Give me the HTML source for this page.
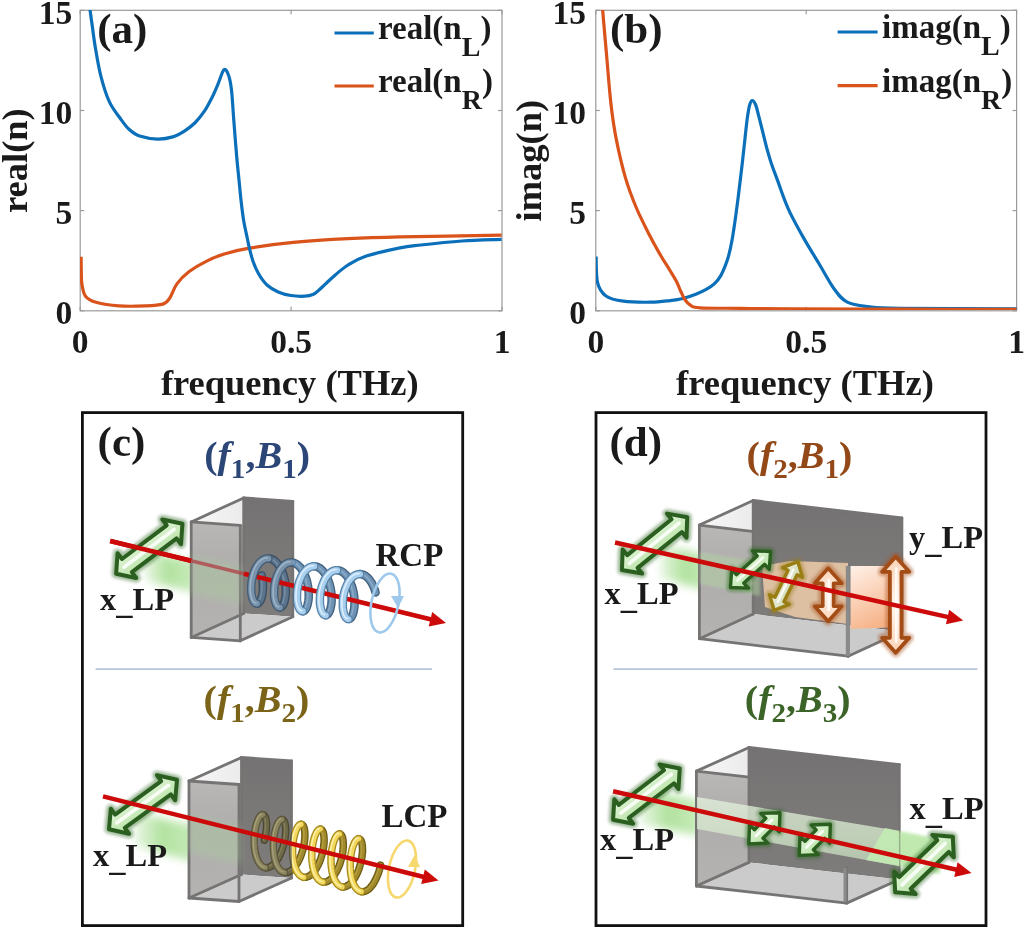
<!DOCTYPE html>
<html><head><meta charset="utf-8"><title>Figure</title><style>
html,body{margin:0;padding:0;background:#fff;}
svg{display:block;}
text{font-family:"Liberation Serif","Times New Roman",serif;font-weight:bold;fill:#1a1a1a;}
.tk{font-size:33.5px;}
.al{font-size:36.5px;}
.lg{font-size:33px;}
.lgs{font-size:28px;}
.pl{font-size:43px;}
.lb{font-size:32.5px;}
.lb2{font-size:33px;}
.fb{font-size:38.5px;}
.fbs{font-size:28px;font-style:normal;}
.it{font-style:italic;}
</style></head>
<body><svg width="1025" height="929" viewBox="0 0 1025 929">
<rect width="1025" height="929" fill="#ffffff"/>
<defs>
<clipPath id="clipA"><rect x="80" y="10" width="422" height="300"/></clipPath>
<clipPath id="clipB"><rect x="596" y="10" width="421" height="300"/></clipPath>
<clipPath id="clipC1in"><rect x="240" y="480" width="53.6" height="170"/></clipPath>
<clipPath id="clipC1out"><rect x="293.6" y="480" width="120" height="170"/></clipPath>
<clipPath id="clipC2in"><rect x="240" y="740" width="52" height="170"/></clipPath>
<clipPath id="clipC2out"><rect x="292" y="740" width="120" height="170"/></clipPath>
<linearGradient id="gfill" x1="0" y1="0" x2="0" y2="1"><stop offset="0" stop-color="#e6f7de"/><stop offset="1" stop-color="#b3e0a0"/></linearGradient>
<linearGradient id="yfill" x1="0" y1="0" x2="0" y2="1"><stop offset="0" stop-color="#eef0dc"/><stop offset="1" stop-color="#cfd9b4"/></linearGradient>
<linearGradient id="ofill" x1="0" y1="0" x2="1" y2="0"><stop offset="0" stop-color="#fbd3b5"/><stop offset="0.5" stop-color="#fff3ea"/><stop offset="1" stop-color="#fbd3b5"/></linearGradient>
<linearGradient id="beamG" x1="0" y1="0" x2="1" y2="0"><stop offset="0" stop-color="#b4e2a2" stop-opacity="0.3"/><stop offset="0.45" stop-color="#a9df95" stop-opacity="0.9"/><stop offset="1" stop-color="#bde8ad" stop-opacity="0.85"/></linearGradient>
<linearGradient id="oG" x1="0" y1="0" x2="0.4" y2="1"><stop offset="0" stop-color="#fff1e8"/><stop offset="1" stop-color="#f6b48a"/></linearGradient>
<linearGradient id="leftG" x1="0" y1="0" x2="0" y2="1"><stop offset="0" stop-color="#bfbcbc"/><stop offset="0.5" stop-color="#afacac"/><stop offset="1" stop-color="#b5b2b2"/></linearGradient>
<linearGradient id="topG" x1="0" y1="0" x2="1" y2="0"><stop offset="0" stop-color="#f7f7f7"/><stop offset="1" stop-color="#ebebeb"/></linearGradient>
<linearGradient id="backG" x1="0" y1="0" x2="0" y2="1"><stop offset="0" stop-color="#747272"/><stop offset="0.5" stop-color="#7b7878"/><stop offset="1" stop-color="#7e7b7b"/></linearGradient>
<linearGradient id="bandG" x1="0" y1="0" x2="0" y2="1"><stop offset="0" stop-color="#e6f3df"/><stop offset="0.6" stop-color="#d6ebcc"/><stop offset="1" stop-color="#c4d8bb"/></linearGradient>
<filter id="blur2" x="-20%" y="-20%" width="140%" height="140%"><feGaussianBlur stdDeviation="1.5"/></filter>
<filter id="blur3" x="-20%" y="-50%" width="140%" height="200%"><feGaussianBlur stdDeviation="4"/></filter>
</defs>
<rect x="80.2" y="10.3" width="421.8" height="300.5" fill="none" stroke="#9a9a9a" stroke-width="1.2"/><line x1="80.2" y1="310.8" x2="84.2" y2="310.8" stroke="#9a9a9a" stroke-width="1.2" /><line x1="502.0" y1="310.8" x2="498.0" y2="310.8" stroke="#9a9a9a" stroke-width="1.2" /><line x1="80.2" y1="210.6" x2="84.2" y2="210.6" stroke="#9a9a9a" stroke-width="1.2" /><line x1="502.0" y1="210.6" x2="498.0" y2="210.6" stroke="#9a9a9a" stroke-width="1.2" /><line x1="80.2" y1="110.5" x2="84.2" y2="110.5" stroke="#9a9a9a" stroke-width="1.2" /><line x1="502.0" y1="110.5" x2="498.0" y2="110.5" stroke="#9a9a9a" stroke-width="1.2" /><line x1="80.2" y1="10.3" x2="84.2" y2="10.3" stroke="#9a9a9a" stroke-width="1.2" /><line x1="502.0" y1="10.3" x2="498.0" y2="10.3" stroke="#9a9a9a" stroke-width="1.2" /><line x1="80.2" y1="310.8" x2="80.2" y2="306.8" stroke="#9a9a9a" stroke-width="1.2" /><line x1="80.2" y1="10.3" x2="80.2" y2="14.3" stroke="#9a9a9a" stroke-width="1.2" /><line x1="291.1" y1="310.8" x2="291.1" y2="306.8" stroke="#9a9a9a" stroke-width="1.2" /><line x1="291.1" y1="10.3" x2="291.1" y2="14.3" stroke="#9a9a9a" stroke-width="1.2" /><line x1="502.0" y1="310.8" x2="502.0" y2="306.8" stroke="#9a9a9a" stroke-width="1.2" /><line x1="502.0" y1="10.3" x2="502.0" y2="14.3" stroke="#9a9a9a" stroke-width="1.2" /><text x="72.3" y="324.4" text-anchor="end" class="tk">0</text><text x="72.3" y="224.2" text-anchor="end" class="tk">5</text><text x="72.3" y="124.1" text-anchor="end" class="tk">10</text><text x="72.3" y="23.9" text-anchor="end" class="tk">15</text><text x="80.2" y="352.5" text-anchor="middle" class="tk">0</text><text x="291.1" y="352.5" text-anchor="middle" class="tk">0.5</text><text x="502.0" y="352.5" text-anchor="middle" class="tk">1</text><text x="289.8" y="395.0" text-anchor="middle" class="al">frequency (THz)</text><text transform="translate(26.6,160.6) rotate(-90)" text-anchor="middle" class="al">real(n)</text><text x="97.3" y="43.0" class="pl">(a)</text>
<rect x="595.8" y="10.3" width="420.8" height="300.5" fill="none" stroke="#9a9a9a" stroke-width="1.2"/><line x1="595.8" y1="310.8" x2="599.8" y2="310.8" stroke="#9a9a9a" stroke-width="1.2" /><line x1="1016.6" y1="310.8" x2="1012.6" y2="310.8" stroke="#9a9a9a" stroke-width="1.2" /><line x1="595.8" y1="210.6" x2="599.8" y2="210.6" stroke="#9a9a9a" stroke-width="1.2" /><line x1="1016.6" y1="210.6" x2="1012.6" y2="210.6" stroke="#9a9a9a" stroke-width="1.2" /><line x1="595.8" y1="110.5" x2="599.8" y2="110.5" stroke="#9a9a9a" stroke-width="1.2" /><line x1="1016.6" y1="110.5" x2="1012.6" y2="110.5" stroke="#9a9a9a" stroke-width="1.2" /><line x1="595.8" y1="10.3" x2="599.8" y2="10.3" stroke="#9a9a9a" stroke-width="1.2" /><line x1="1016.6" y1="10.3" x2="1012.6" y2="10.3" stroke="#9a9a9a" stroke-width="1.2" /><line x1="595.8" y1="310.8" x2="595.8" y2="306.8" stroke="#9a9a9a" stroke-width="1.2" /><line x1="595.8" y1="10.3" x2="595.8" y2="14.3" stroke="#9a9a9a" stroke-width="1.2" /><line x1="806.2" y1="310.8" x2="806.2" y2="306.8" stroke="#9a9a9a" stroke-width="1.2" /><line x1="806.2" y1="10.3" x2="806.2" y2="14.3" stroke="#9a9a9a" stroke-width="1.2" /><line x1="1016.6" y1="310.8" x2="1016.6" y2="306.8" stroke="#9a9a9a" stroke-width="1.2" /><line x1="1016.6" y1="10.3" x2="1016.6" y2="14.3" stroke="#9a9a9a" stroke-width="1.2" /><text x="585.9" y="324.4" text-anchor="end" class="tk">0</text><text x="585.9" y="224.2" text-anchor="end" class="tk">5</text><text x="585.9" y="124.1" text-anchor="end" class="tk">10</text><text x="585.9" y="23.9" text-anchor="end" class="tk">15</text><text x="595.8" y="352.5" text-anchor="middle" class="tk">0</text><text x="806.2" y="352.5" text-anchor="middle" class="tk">0.5</text><text x="1016.6" y="352.5" text-anchor="middle" class="tk">1</text><text x="804.9" y="395.0" text-anchor="middle" class="al">frequency (THz)</text><text transform="translate(541.0,160.6) rotate(-90)" text-anchor="middle" class="al">imag(n)</text><text x="610.0" y="43.0" class="pl">(b)</text>
<g clip-path="url(#clipA)">
<path d="M81.1,256.7 C81.1,259.2 81.2,267.4 81.3,272.0 C81.4,276.6 81.2,280.0 81.9,284.0 C82.6,288.0 83.1,293.1 85.5,296.2 C87.9,299.2 90.5,300.7 96.1,302.3 C101.7,303.9 110.7,305.3 118.9,305.9 C127.1,306.5 137.9,306.2 145.2,305.9 C152.5,305.6 158.7,305.4 162.8,304.1 C166.9,302.8 167.5,301.4 169.8,298.0 C172.2,294.6 173.7,288.3 176.9,283.9 C180.1,279.5 184.2,275.4 189.2,271.6 C194.2,267.8 200.8,264.0 206.7,261.1 C212.5,258.2 217.0,256.2 224.3,254.0 C231.6,251.8 239.1,249.8 250.6,247.9 C262.1,246.0 277.0,243.9 293.2,242.4 C309.4,240.9 330.2,239.6 348.0,238.7 C365.8,237.8 374.4,237.5 400.0,236.9 C425.6,236.3 484.7,235.5 501.6,235.2" fill="none" stroke="#d9531b" stroke-width="3.2" stroke-linejoin="round"/>
<path d="M89.5,6.0 C89.9,9.0 91.0,17.0 92.0,24.0 C93.0,31.0 93.9,39.3 95.4,47.9 C96.9,56.5 98.5,66.8 100.8,75.8 C103.1,84.8 106.1,94.6 109.3,101.6 C112.5,108.6 116.7,113.4 120.0,118.0 C123.3,122.6 125.7,126.3 129.0,129.3 C132.3,132.3 134.8,134.5 139.6,136.1 C144.4,137.7 152.2,139.0 157.7,139.1 C163.2,139.2 168.2,138.3 172.7,136.9 C177.2,135.5 181.0,133.2 184.8,130.8 C188.6,128.4 192.0,125.8 195.3,122.5 C198.6,119.2 201.6,115.3 204.4,111.2 C207.2,107.1 209.6,102.2 211.9,97.7 C214.2,93.2 216.0,88.8 218.0,84.1 C220.0,79.4 222.2,71.3 224.0,69.8 C225.8,68.3 227.2,71.7 228.5,75.1 C229.8,78.5 230.6,82.6 231.5,90.1 C232.4,97.6 232.9,109.0 233.8,120.3 C234.7,131.6 235.9,148.1 236.8,158.0 C237.7,167.9 238.3,172.8 239.0,180.0 C239.7,187.2 240.3,194.0 241.1,201.0 C241.9,208.0 242.8,215.7 243.9,222.0 C245.0,228.3 246.5,234.4 247.4,238.8 C248.3,243.2 248.6,244.9 249.5,248.6 C250.4,252.3 251.5,257.0 253.0,261.2 C254.5,265.4 256.3,269.8 258.6,273.8 C260.9,277.8 263.7,282.0 267.0,285.0 C270.3,288.0 274.2,290.2 278.2,292.0 C282.2,293.8 286.4,294.8 290.8,295.5 C295.2,296.2 301.0,296.4 304.8,296.2 C308.6,296.0 311.1,295.3 313.5,294.3 C315.9,293.3 317.1,291.6 319.0,290.0 C320.9,288.4 322.3,286.9 325.0,284.4 C327.7,281.9 331.2,278.4 335.0,275.2 C338.8,272.0 342.8,268.2 348.0,265.0 C353.2,261.8 357.6,259.0 366.3,256.1 C375.0,253.3 390.9,249.8 400.0,247.9 C409.1,246.1 410.7,246.2 421.0,245.0 C431.3,243.8 448.6,241.9 462.0,241.0 C475.4,240.1 495.0,239.6 501.6,239.3" fill="none" stroke="#0b6fba" stroke-width="3.2" stroke-linejoin="round"/>
</g>
<g clip-path="url(#clipB)">
<path d="M596.1,256.5 C596.3,260.8 595.9,275.7 597.5,282.3 C599.1,288.9 601.7,292.9 606.0,296.0 C610.3,299.1 615.8,300.2 623.3,301.2 C630.8,302.2 643.0,302.3 650.8,302.2 C658.6,302.1 664.6,301.2 670.0,300.6 C675.4,300.0 678.6,299.6 682.9,298.5 C687.2,297.4 691.9,295.7 695.8,294.2 C699.7,292.7 703.0,291.2 706.2,289.4 C709.4,287.6 712.4,285.7 714.8,283.4 C717.2,281.1 719.1,278.5 720.8,275.6 C722.5,272.7 723.8,269.5 725.1,266.2 C726.4,262.9 727.4,260.2 728.6,255.8 C729.8,251.4 731.0,245.9 732.1,239.8 C733.2,233.7 734.2,226.5 735.3,219.0 C736.4,211.5 737.4,203.4 738.5,194.8 C739.6,186.2 740.7,176.8 741.8,167.4 C742.9,158.0 744.1,146.7 745.0,138.4 C745.9,130.1 746.6,123.1 747.4,117.4 C748.2,111.8 749.0,107.3 749.8,104.5 C750.6,101.7 751.3,100.5 752.3,100.5 C753.2,100.5 754.4,102.0 755.5,104.5 C756.6,107.0 757.5,111.2 758.7,115.8 C759.9,120.4 761.4,126.5 762.7,131.9 C764.1,137.3 765.3,142.7 766.8,148.1 C768.3,153.5 769.7,158.6 771.6,164.2 C773.5,169.8 776.0,176.0 778.1,181.9 C780.2,187.8 782.5,194.6 784.5,199.7 C786.5,204.8 786.9,206.3 790.0,212.6 C793.1,218.9 798.6,229.1 803.4,237.6 C808.2,246.1 813.7,254.9 818.9,263.5 C824.1,272.1 829.7,282.9 834.4,289.3 C839.1,295.8 841.7,299.3 847.3,302.2 C852.9,305.1 859.2,305.6 868.0,306.6 C876.8,307.6 875.2,307.9 900.0,308.3 C924.8,308.7 997.1,308.7 1016.5,308.8" fill="none" stroke="#0b6fba" stroke-width="3.2" stroke-linejoin="round"/>
<path d="M602.3,6.0 C603.0,13.7 604.8,35.5 606.3,52.0 C607.8,68.5 609.4,90.5 611.1,105.2 C612.8,119.9 614.0,127.8 616.4,139.9 C618.8,152.0 622.1,166.3 625.4,177.6 C628.7,188.9 632.1,197.7 636.2,207.5 C640.3,217.3 646.0,228.2 650.1,236.3 C654.2,244.4 657.7,250.3 661.0,256.0 C664.3,261.7 667.4,266.2 670.0,270.5 C672.6,274.8 674.7,278.1 676.5,281.5 C678.3,284.9 679.2,288.0 680.6,291.0 C682.0,294.0 683.1,297.1 684.8,299.5 C686.5,301.9 688.3,304.1 690.8,305.5 C693.3,306.9 691.8,307.3 700.0,307.8 C708.2,308.3 725.0,308.2 740.0,308.4 C755.0,308.6 763.3,308.7 790.0,308.8 C816.7,308.9 862.2,309.1 900.0,309.2 C937.8,309.3 997.1,309.4 1016.5,309.4" fill="none" stroke="#d9531b" stroke-width="3.2" stroke-linejoin="round"/>
</g>
<line x1="334.5" y1="33.0" x2="373.8" y2="33.0" stroke="#0b6fba" stroke-width="3.2" /><line x1="334.5" y1="86.0" x2="373.8" y2="86.0" stroke="#d9531b" stroke-width="3.2" /><text x="378.0" y="39.0" class="lg">real(n<tspan dy="17" class="lgs">L</tspan><tspan dy="-17">)</tspan></text><text x="378.0" y="92.0" class="lg">real(n<tspan dy="17" class="lgs">R</tspan><tspan dy="-17">)</tspan></text>
<line x1="837.6" y1="32.0" x2="877.6" y2="32.0" stroke="#0b6fba" stroke-width="3.2" /><line x1="837.6" y1="85.6" x2="877.6" y2="85.6" stroke="#d9531b" stroke-width="3.2" /><text x="882.0" y="38.0" class="lg">imag(n<tspan dy="17" class="lgs">L</tspan><tspan dy="-17">)</tspan></text><text x="882.0" y="91.6" class="lg">imag(n<tspan dy="17" class="lgs">R</tspan><tspan dy="-17">)</tspan></text>
<rect x="82.4" y="412.6" width="380.3" height="513" fill="none" stroke="#111" stroke-width="2.8"/>
<rect x="596" y="412.6" width="390" height="513" fill="none" stroke="#111" stroke-width="2.8"/>
<text x="97.6" y="456" class="pl">(c)</text>
<text x="609.5" y="455.5" class="pl">(d)</text>
<line x1="95.6" y1="669.2" x2="432.0" y2="669.2" stroke="#b7c6da" stroke-width="1.7" />
<line x1="613.5" y1="669.1" x2="977.5" y2="669.1" stroke="#b7c6da" stroke-width="1.7" />
<text transform="translate(204.2,467.8) scale(1.04,1)" class="fb" style="fill:#2b4677">(<tspan class="it">f</tspan><tspan dy="10" class="fbs">1</tspan><tspan dy="-10">,</tspan><tspan class="it">B</tspan><tspan dy="10" class="fbs">1</tspan><tspan dy="-10">)</tspan></text>
<text transform="translate(203.6,711.8) scale(1.04,1)" class="fb" style="fill:#7b6418">(<tspan class="it">f</tspan><tspan dy="10" class="fbs">1</tspan><tspan dy="-10">,</tspan><tspan class="it">B</tspan><tspan dy="10" class="fbs">2</tspan><tspan dy="-10">)</tspan></text>
<text transform="translate(746.6,467.8) scale(1.04,1)" class="fb" style="fill:#934817">(<tspan class="it">f</tspan><tspan dy="10" class="fbs">2</tspan><tspan dy="-10">,</tspan><tspan class="it">B</tspan><tspan dy="10" class="fbs">1</tspan><tspan dy="-10">)</tspan></text>
<text transform="translate(744.8,711.8) scale(1.04,1)" class="fb" style="fill:#3c6428">(<tspan class="it">f</tspan><tspan dy="10" class="fbs">2</tspan><tspan dy="-10">,</tspan><tspan class="it">B</tspan><tspan dy="10" class="fbs">3</tspan><tspan dy="-10">)</tspan></text>
<polygon points="145,551 194,561 194,592 145,581" fill="url(#beamG)" filter="url(#blur3)"/>
<polygon points="191.2,521.9 243.7,497.9 243.7,613.4 191.2,637.4" fill="url(#leftG)" stroke="none" stroke-width="0.0" stroke-linejoin="round" /><polygon points="191.2,521.9 243.7,497.9 243.7,525.6" fill="url(#topG)" stroke="none" stroke-width="0.0" stroke-linejoin="round" /><polygon points="243.7,497.9 292.8,501.3 292.8,616.8 243.7,613.4" fill="url(#backG)" stroke="none" stroke-width="0.0" stroke-linejoin="round" /><polygon points="191.2,637.4 243.7,613.4 292.8,616.8 240.3,640.8" fill="#cbcbcb" stroke="none" stroke-width="0.0" stroke-linejoin="round" /><polygon points="191.2,521.9 240.3,525.3 240.3,640.8 191.2,637.4" fill="rgba(235,235,235,0.0)" stroke="none" stroke-width="0.0" stroke-linejoin="round" /><line x1="191.2" y1="521.9" x2="243.7" y2="497.9" stroke="#767373" stroke-width="2.8" stroke-linecap="round"/><line x1="243.7" y1="497.9" x2="292.8" y2="501.3" stroke="#767373" stroke-width="2.8" stroke-linecap="round"/><line x1="292.8" y1="501.3" x2="292.8" y2="616.8" stroke="#767373" stroke-width="2.8" stroke-linecap="round"/><line x1="191.2" y1="521.9" x2="191.2" y2="637.4" stroke="#767373" stroke-width="2.8" stroke-linecap="round"/><line x1="191.2" y1="637.4" x2="240.3" y2="640.8" stroke="#767373" stroke-width="2.8" stroke-linecap="round"/><line x1="240.3" y1="640.8" x2="292.8" y2="616.8" stroke="#767373" stroke-width="2.8" stroke-linecap="round"/><line x1="243.7" y1="497.9" x2="243.7" y2="613.4" stroke="#767373" stroke-width="2.8" stroke-linecap="round"/><line x1="191.2" y1="637.4" x2="243.7" y2="613.4" stroke="#767373" stroke-width="2.8" stroke-linecap="round"/><line x1="240.3" y1="525.3" x2="240.3" y2="640.8" stroke="#767373" stroke-width="2.8" stroke-linecap="round"/><line x1="191.2" y1="521.9" x2="240.3" y2="525.3" stroke="#767373" stroke-width="2.8" stroke-linecap="round"/>
<polygon points="191,556 241,566 241,604 191,594" fill="#a9d79a" opacity="0.35" filter="url(#blur3)"/>
<line x1="110.2" y1="541.0" x2="191.0" y2="560.7" stroke="#cc0a0a" stroke-width="4.5" />
<line x1="191.0" y1="560.7" x2="244.0" y2="573.7" stroke="#b0464a" stroke-width="3.6" opacity="0.8"/>
<g clip-path="url(#clipC1in)" fill="none" stroke-linecap="round" stroke-linejoin="round"><path d="M261.6,575.3 L262.0,577.3 L262.4,579.3 L262.6,581.2 L262.8,583.2 L262.9,585.2 L262.9,587.1 L262.9,588.9 L262.8,590.7 L262.6,592.4 L262.4,594.0 L262.1,595.5 L261.8,596.9 L261.4,598.2 L260.9,599.4 L260.5,600.4 L259.9,601.3 L259.4,602.1 L258.8,602.7 L258.3,603.1 L257.7,603.4 L257.1,603.6" stroke="#3a4e62" stroke-width="8.5"/><path d="M261.6,575.3 L262.0,577.3 L262.4,579.3 L262.6,581.2 L262.8,583.2 L262.9,585.2 L262.9,587.1 L262.9,588.9 L262.8,590.7 L262.6,592.4 L262.4,594.0 L262.1,595.5 L261.8,596.9 L261.4,598.2 L260.9,599.4 L260.5,600.4 L259.9,601.3 L259.4,602.1 L258.8,602.7 L258.3,603.1 L257.7,603.4 L257.1,603.6" stroke="#5b748b" stroke-width="5.9"/><path d="M261.6,575.3 L262.0,577.3 L262.4,579.3 L262.6,581.2 L262.8,583.2 L262.9,585.2 L262.9,587.1 L262.9,588.9 L262.8,590.7 L262.6,592.4 L262.4,594.0 L262.1,595.5 L261.8,596.9 L261.4,598.2 L260.9,599.4 L260.5,600.4 L259.9,601.3 L259.4,602.1 L258.8,602.7 L258.3,603.1 L257.7,603.4 L257.1,603.6" stroke="#7a92a7" stroke-width="1.5" transform="translate(-1.0,-0.6)" opacity="0.85"/><path d="M268.5,558.5 L269.7,558.6 L270.9,558.9 L272.0,559.3 L273.2,559.9 L274.3,560.6 L275.4,561.5 L276.4,562.5 L277.5,563.6 L278.4,564.9 L279.4,566.2 L280.3,567.7 L281.1,569.2 L281.8,570.9 L282.5,572.6 L283.2,574.4 L283.8,576.3 L284.3,578.1 L284.7,580.1 L285.1,582.0 L285.4,583.9 L285.6,585.9 L285.7,587.8 L285.8,589.7 L285.8,591.5 L285.8,593.3 L285.7,595.0 L285.5,596.7 L285.2,598.3 L284.9,599.7 L284.6,601.1 L284.2,602.3 L283.8,603.5 L283.3,604.5 L282.8,605.3 L282.3,606.0 L281.7,606.6 L281.1,607.0 L280.5,607.3 L279.9,607.4" stroke="#3a4e62" stroke-width="8.5"/><path d="M268.5,558.5 L269.7,558.6 L270.9,558.9 L272.0,559.3 L273.2,559.9 L274.3,560.6 L275.4,561.5 L276.4,562.5 L277.5,563.6 L278.4,564.9 L279.4,566.2 L280.3,567.7 L281.1,569.2 L281.8,570.9 L282.5,572.6 L283.2,574.4 L283.8,576.3 L284.3,578.1 L284.7,580.1 L285.1,582.0 L285.4,583.9 L285.6,585.9 L285.7,587.8 L285.8,589.7 L285.8,591.5 L285.8,593.3 L285.7,595.0 L285.5,596.7 L285.2,598.3 L284.9,599.7 L284.6,601.1 L284.2,602.3 L283.8,603.5 L283.3,604.5 L282.8,605.3 L282.3,606.0 L281.7,606.6 L281.1,607.0 L280.5,607.3 L279.9,607.4" stroke="#5b748b" stroke-width="5.9"/><path d="M268.5,558.5 L269.7,558.6 L270.9,558.9 L272.0,559.3 L273.2,559.9 L274.3,560.6 L275.4,561.5 L276.4,562.5 L277.5,563.6 L278.4,564.9 L279.4,566.2 L280.3,567.7 L281.1,569.2 L281.8,570.9 L282.5,572.6 L283.2,574.4 L283.8,576.3 L284.3,578.1 L284.7,580.1 L285.1,582.0 L285.4,583.9 L285.6,585.9 L285.7,587.8 L285.8,589.7 L285.8,591.5 L285.8,593.3 L285.7,595.0 L285.5,596.7 L285.2,598.3 L284.9,599.7 L284.6,601.1 L284.2,602.3 L283.8,603.5 L283.3,604.5 L282.8,605.3 L282.3,606.0 L281.7,606.6 L281.1,607.0 L280.5,607.3 L279.9,607.4" stroke="#7a92a7" stroke-width="1.5" transform="translate(-1.0,-0.6)" opacity="0.85"/><path d="M291.4,562.4 L292.6,562.5 L293.8,562.8 L294.9,563.2 L296.1,563.8 L297.2,564.5 L298.3,565.4 L299.3,566.4 L300.4,567.5 L301.3,568.8 L302.3,570.1 L303.2,571.6 L304.0,573.1 L304.7,574.8 L305.4,576.5 L306.1,578.3 L306.7,580.2 L307.2,582.0 L307.6,584.0 L308.0,585.9 L308.3,587.8 L308.5,589.8 L308.6,591.7 L308.7,593.6 L308.7,595.4 L308.7,597.2 L308.6,598.9 L308.4,600.6 L308.1,602.2 L307.8,603.6 L307.5,605.0 L307.1,606.2 L306.7,607.4 L306.2,608.3 L305.7,609.2 L305.2,609.9 L304.6,610.5 L304.0,610.9 L303.4,611.2 L302.9,611.3" stroke="#3a4e62" stroke-width="8.5"/><path d="M291.4,562.4 L292.6,562.5 L293.8,562.8 L294.9,563.2 L296.1,563.8 L297.2,564.5 L298.3,565.4 L299.3,566.4 L300.4,567.5 L301.3,568.8 L302.3,570.1 L303.2,571.6 L304.0,573.1 L304.7,574.8 L305.4,576.5 L306.1,578.3 L306.7,580.2 L307.2,582.0 L307.6,584.0 L308.0,585.9 L308.3,587.8 L308.5,589.8 L308.6,591.7 L308.7,593.6 L308.7,595.4 L308.7,597.2 L308.6,598.9 L308.4,600.6 L308.1,602.2 L307.8,603.6 L307.5,605.0 L307.1,606.2 L306.7,607.4 L306.2,608.3 L305.7,609.2 L305.2,609.9 L304.6,610.5 L304.0,610.9 L303.4,611.2 L302.9,611.3" stroke="#5b748b" stroke-width="5.9"/><path d="M291.4,562.4 L292.6,562.5 L293.8,562.8 L294.9,563.2 L296.1,563.8 L297.2,564.5 L298.3,565.4 L299.3,566.4 L300.4,567.5 L301.3,568.8 L302.3,570.1 L303.2,571.6 L304.0,573.1 L304.7,574.8 L305.4,576.5 L306.1,578.3 L306.7,580.2 L307.2,582.0 L307.6,584.0 L308.0,585.9 L308.3,587.8 L308.5,589.8 L308.6,591.7 L308.7,593.6 L308.7,595.4 L308.7,597.2 L308.6,598.9 L308.4,600.6 L308.1,602.2 L307.8,603.6 L307.5,605.0 L307.1,606.2 L306.7,607.4 L306.2,608.3 L305.7,609.2 L305.2,609.9 L304.6,610.5 L304.0,610.9 L303.4,611.2 L302.9,611.3" stroke="#7a92a7" stroke-width="1.5" transform="translate(-1.0,-0.6)" opacity="0.85"/><path d="M314.3,566.3 L315.5,566.4 L316.7,566.7 L317.8,567.1 L319.0,567.7 L320.1,568.4 L321.2,569.3 L322.2,570.3 L323.3,571.4 L324.2,572.6 L325.2,574.0 L326.1,575.5 L326.9,577.0 L327.6,578.7 L328.3,580.4 L329.0,582.2 L329.6,584.0 L330.1,585.9 L330.5,587.9 L330.9,589.8 L331.2,591.7 L331.4,593.7 L331.5,595.6 L331.6,597.5 L331.6,599.3 L331.6,601.1 L331.5,602.8 L331.3,604.5 L331.0,606.0 L330.7,607.5 L330.4,608.9 L330.0,610.1 L329.6,611.2 L329.1,612.2 L328.6,613.1 L328.1,613.8 L327.5,614.4 L326.9,614.8 L326.3,615.1 L325.8,615.2" stroke="#3a4e62" stroke-width="8.5"/><path d="M314.3,566.3 L315.5,566.4 L316.7,566.7 L317.8,567.1 L319.0,567.7 L320.1,568.4 L321.2,569.3 L322.2,570.3 L323.3,571.4 L324.2,572.6 L325.2,574.0 L326.1,575.5 L326.9,577.0 L327.6,578.7 L328.3,580.4 L329.0,582.2 L329.6,584.0 L330.1,585.9 L330.5,587.9 L330.9,589.8 L331.2,591.7 L331.4,593.7 L331.5,595.6 L331.6,597.5 L331.6,599.3 L331.6,601.1 L331.5,602.8 L331.3,604.5 L331.0,606.0 L330.7,607.5 L330.4,608.9 L330.0,610.1 L329.6,611.2 L329.1,612.2 L328.6,613.1 L328.1,613.8 L327.5,614.4 L326.9,614.8 L326.3,615.1 L325.8,615.2" stroke="#5b748b" stroke-width="5.9"/><path d="M314.3,566.3 L315.5,566.4 L316.7,566.7 L317.8,567.1 L319.0,567.7 L320.1,568.4 L321.2,569.3 L322.2,570.3 L323.3,571.4 L324.2,572.6 L325.2,574.0 L326.1,575.5 L326.9,577.0 L327.6,578.7 L328.3,580.4 L329.0,582.2 L329.6,584.0 L330.1,585.9 L330.5,587.9 L330.9,589.8 L331.2,591.7 L331.4,593.7 L331.5,595.6 L331.6,597.5 L331.6,599.3 L331.6,601.1 L331.5,602.8 L331.3,604.5 L331.0,606.0 L330.7,607.5 L330.4,608.9 L330.0,610.1 L329.6,611.2 L329.1,612.2 L328.6,613.1 L328.1,613.8 L327.5,614.4 L326.9,614.8 L326.3,615.1 L325.8,615.2" stroke="#7a92a7" stroke-width="1.5" transform="translate(-1.0,-0.6)" opacity="0.85"/><path d="M337.2,570.2 L338.4,570.3 L339.6,570.6 L340.7,571.0 L341.9,571.6 L343.0,572.3 L344.1,573.2 L345.1,574.2 L346.2,575.3 L347.1,576.5 L348.1,577.9 L349.0,579.4 L349.8,580.9 L350.5,582.6 L351.2,584.3 L351.9,586.1 L352.5,587.9 L353.0,589.8 L353.4,591.7 L353.8,593.7 L354.1,595.6 L354.3,597.6 L354.4,599.5 L354.5,601.4 L354.5,603.2 L354.5,605.0 L354.4,606.7 L354.2,608.4 L353.9,609.9 L353.6,611.4 L353.3,612.8 L352.9,614.0 L352.5,615.1 L352.0,616.1 L351.5,617.0 L351.0,617.7 L350.4,618.3 L349.8,618.7 L349.2,619.0 L348.6,619.1" stroke="#3a4e62" stroke-width="8.5"/><path d="M337.2,570.2 L338.4,570.3 L339.6,570.6 L340.7,571.0 L341.9,571.6 L343.0,572.3 L344.1,573.2 L345.1,574.2 L346.2,575.3 L347.1,576.5 L348.1,577.9 L349.0,579.4 L349.8,580.9 L350.5,582.6 L351.2,584.3 L351.9,586.1 L352.5,587.9 L353.0,589.8 L353.4,591.7 L353.8,593.7 L354.1,595.6 L354.3,597.6 L354.4,599.5 L354.5,601.4 L354.5,603.2 L354.5,605.0 L354.4,606.7 L354.2,608.4 L353.9,609.9 L353.6,611.4 L353.3,612.8 L352.9,614.0 L352.5,615.1 L352.0,616.1 L351.5,617.0 L351.0,617.7 L350.4,618.3 L349.8,618.7 L349.2,619.0 L348.6,619.1" stroke="#5b748b" stroke-width="5.9"/><path d="M337.2,570.2 L338.4,570.3 L339.6,570.6 L340.7,571.0 L341.9,571.6 L343.0,572.3 L344.1,573.2 L345.1,574.2 L346.2,575.3 L347.1,576.5 L348.1,577.9 L349.0,579.4 L349.8,580.9 L350.5,582.6 L351.2,584.3 L351.9,586.1 L352.5,587.9 L353.0,589.8 L353.4,591.7 L353.8,593.7 L354.1,595.6 L354.3,597.6 L354.4,599.5 L354.5,601.4 L354.5,603.2 L354.5,605.0 L354.4,606.7 L354.2,608.4 L353.9,609.9 L353.6,611.4 L353.3,612.8 L352.9,614.0 L352.5,615.1 L352.0,616.1 L351.5,617.0 L351.0,617.7 L350.4,618.3 L349.8,618.7 L349.2,619.0 L348.6,619.1" stroke="#7a92a7" stroke-width="1.5" transform="translate(-1.0,-0.6)" opacity="0.85"/><path d="M360.1,574.1 L361.3,574.2 L362.5,574.5 L363.7,574.9 L364.9,575.5 L366.0,576.3 L367.1,577.2 L368.2,578.2 L369.2,579.4 L370.2,580.7 L371.2,582.1 L372.1,583.7 L372.9,585.3 L373.7,587.0 L374.4,588.8 L375.0,590.6 L375.6,592.5" stroke="#3a4e62" stroke-width="8.5"/><path d="M360.1,574.1 L361.3,574.2 L362.5,574.5 L363.7,574.9 L364.9,575.5 L366.0,576.3 L367.1,577.2 L368.2,578.2 L369.2,579.4 L370.2,580.7 L371.2,582.1 L372.1,583.7 L372.9,585.3 L373.7,587.0 L374.4,588.8 L375.0,590.6 L375.6,592.5" stroke="#5b748b" stroke-width="5.9"/><path d="M360.1,574.1 L361.3,574.2 L362.5,574.5 L363.7,574.9 L364.9,575.5 L366.0,576.3 L367.1,577.2 L368.2,578.2 L369.2,579.4 L370.2,580.7 L371.2,582.1 L372.1,583.7 L372.9,585.3 L373.7,587.0 L374.4,588.8 L375.0,590.6 L375.6,592.5" stroke="#7a92a7" stroke-width="1.5" transform="translate(-1.0,-0.6)" opacity="0.85"/></g>
<g clip-path="url(#clipC1out)" fill="none" stroke-linecap="round" stroke-linejoin="round"><path d="M261.6,575.3 L262.0,577.3 L262.4,579.3 L262.6,581.2 L262.8,583.2 L262.9,585.2 L262.9,587.1 L262.9,588.9 L262.8,590.7 L262.6,592.4 L262.4,594.0 L262.1,595.5 L261.8,596.9 L261.4,598.2 L260.9,599.4 L260.5,600.4 L259.9,601.3 L259.4,602.1 L258.8,602.7 L258.3,603.1 L257.7,603.4 L257.1,603.6" stroke="#3f5f7c" stroke-width="8.5"/><path d="M261.6,575.3 L262.0,577.3 L262.4,579.3 L262.6,581.2 L262.8,583.2 L262.9,585.2 L262.9,587.1 L262.9,588.9 L262.8,590.7 L262.6,592.4 L262.4,594.0 L262.1,595.5 L261.8,596.9 L261.4,598.2 L260.9,599.4 L260.5,600.4 L259.9,601.3 L259.4,602.1 L258.8,602.7 L258.3,603.1 L257.7,603.4 L257.1,603.6" stroke="#6f93b4" stroke-width="5.9"/><path d="M261.6,575.3 L262.0,577.3 L262.4,579.3 L262.6,581.2 L262.8,583.2 L262.9,585.2 L262.9,587.1 L262.9,588.9 L262.8,590.7 L262.6,592.4 L262.4,594.0 L262.1,595.5 L261.8,596.9 L261.4,598.2 L260.9,599.4 L260.5,600.4 L259.9,601.3 L259.4,602.1 L258.8,602.7 L258.3,603.1 L257.7,603.4 L257.1,603.6" stroke="#8fb0cc" stroke-width="1.5" transform="translate(-1.0,-0.6)" opacity="0.85"/><path d="M268.5,558.5 L269.7,558.6 L270.9,558.9 L272.0,559.3 L273.2,559.9 L274.3,560.6 L275.4,561.5 L276.4,562.5 L277.5,563.6 L278.4,564.9 L279.4,566.2 L280.3,567.7 L281.1,569.2 L281.8,570.9 L282.5,572.6 L283.2,574.4 L283.8,576.3 L284.3,578.1 L284.7,580.1 L285.1,582.0 L285.4,583.9 L285.6,585.9 L285.7,587.8 L285.8,589.7 L285.8,591.5 L285.8,593.3 L285.7,595.0 L285.5,596.7 L285.2,598.3 L284.9,599.7 L284.6,601.1 L284.2,602.3 L283.8,603.5 L283.3,604.5 L282.8,605.3 L282.3,606.0 L281.7,606.6 L281.1,607.0 L280.5,607.3 L279.9,607.4" stroke="#3f5f7c" stroke-width="8.5"/><path d="M268.5,558.5 L269.7,558.6 L270.9,558.9 L272.0,559.3 L273.2,559.9 L274.3,560.6 L275.4,561.5 L276.4,562.5 L277.5,563.6 L278.4,564.9 L279.4,566.2 L280.3,567.7 L281.1,569.2 L281.8,570.9 L282.5,572.6 L283.2,574.4 L283.8,576.3 L284.3,578.1 L284.7,580.1 L285.1,582.0 L285.4,583.9 L285.6,585.9 L285.7,587.8 L285.8,589.7 L285.8,591.5 L285.8,593.3 L285.7,595.0 L285.5,596.7 L285.2,598.3 L284.9,599.7 L284.6,601.1 L284.2,602.3 L283.8,603.5 L283.3,604.5 L282.8,605.3 L282.3,606.0 L281.7,606.6 L281.1,607.0 L280.5,607.3 L279.9,607.4" stroke="#6f93b4" stroke-width="5.9"/><path d="M268.5,558.5 L269.7,558.6 L270.9,558.9 L272.0,559.3 L273.2,559.9 L274.3,560.6 L275.4,561.5 L276.4,562.5 L277.5,563.6 L278.4,564.9 L279.4,566.2 L280.3,567.7 L281.1,569.2 L281.8,570.9 L282.5,572.6 L283.2,574.4 L283.8,576.3 L284.3,578.1 L284.7,580.1 L285.1,582.0 L285.4,583.9 L285.6,585.9 L285.7,587.8 L285.8,589.7 L285.8,591.5 L285.8,593.3 L285.7,595.0 L285.5,596.7 L285.2,598.3 L284.9,599.7 L284.6,601.1 L284.2,602.3 L283.8,603.5 L283.3,604.5 L282.8,605.3 L282.3,606.0 L281.7,606.6 L281.1,607.0 L280.5,607.3 L279.9,607.4" stroke="#8fb0cc" stroke-width="1.5" transform="translate(-1.0,-0.6)" opacity="0.85"/><path d="M291.4,562.4 L292.6,562.5 L293.8,562.8 L294.9,563.2 L296.1,563.8 L297.2,564.5 L298.3,565.4 L299.3,566.4 L300.4,567.5 L301.3,568.8 L302.3,570.1 L303.2,571.6 L304.0,573.1 L304.7,574.8 L305.4,576.5 L306.1,578.3 L306.7,580.2 L307.2,582.0 L307.6,584.0 L308.0,585.9 L308.3,587.8 L308.5,589.8 L308.6,591.7 L308.7,593.6 L308.7,595.4 L308.7,597.2 L308.6,598.9 L308.4,600.6 L308.1,602.2 L307.8,603.6 L307.5,605.0 L307.1,606.2 L306.7,607.4 L306.2,608.3 L305.7,609.2 L305.2,609.9 L304.6,610.5 L304.0,610.9 L303.4,611.2 L302.9,611.3" stroke="#3f5f7c" stroke-width="8.5"/><path d="M291.4,562.4 L292.6,562.5 L293.8,562.8 L294.9,563.2 L296.1,563.8 L297.2,564.5 L298.3,565.4 L299.3,566.4 L300.4,567.5 L301.3,568.8 L302.3,570.1 L303.2,571.6 L304.0,573.1 L304.7,574.8 L305.4,576.5 L306.1,578.3 L306.7,580.2 L307.2,582.0 L307.6,584.0 L308.0,585.9 L308.3,587.8 L308.5,589.8 L308.6,591.7 L308.7,593.6 L308.7,595.4 L308.7,597.2 L308.6,598.9 L308.4,600.6 L308.1,602.2 L307.8,603.6 L307.5,605.0 L307.1,606.2 L306.7,607.4 L306.2,608.3 L305.7,609.2 L305.2,609.9 L304.6,610.5 L304.0,610.9 L303.4,611.2 L302.9,611.3" stroke="#6f93b4" stroke-width="5.9"/><path d="M291.4,562.4 L292.6,562.5 L293.8,562.8 L294.9,563.2 L296.1,563.8 L297.2,564.5 L298.3,565.4 L299.3,566.4 L300.4,567.5 L301.3,568.8 L302.3,570.1 L303.2,571.6 L304.0,573.1 L304.7,574.8 L305.4,576.5 L306.1,578.3 L306.7,580.2 L307.2,582.0 L307.6,584.0 L308.0,585.9 L308.3,587.8 L308.5,589.8 L308.6,591.7 L308.7,593.6 L308.7,595.4 L308.7,597.2 L308.6,598.9 L308.4,600.6 L308.1,602.2 L307.8,603.6 L307.5,605.0 L307.1,606.2 L306.7,607.4 L306.2,608.3 L305.7,609.2 L305.2,609.9 L304.6,610.5 L304.0,610.9 L303.4,611.2 L302.9,611.3" stroke="#8fb0cc" stroke-width="1.5" transform="translate(-1.0,-0.6)" opacity="0.85"/><path d="M314.3,566.3 L315.5,566.4 L316.7,566.7 L317.8,567.1 L319.0,567.7 L320.1,568.4 L321.2,569.3 L322.2,570.3 L323.3,571.4 L324.2,572.6 L325.2,574.0 L326.1,575.5 L326.9,577.0 L327.6,578.7 L328.3,580.4 L329.0,582.2 L329.6,584.0 L330.1,585.9 L330.5,587.9 L330.9,589.8 L331.2,591.7 L331.4,593.7 L331.5,595.6 L331.6,597.5 L331.6,599.3 L331.6,601.1 L331.5,602.8 L331.3,604.5 L331.0,606.0 L330.7,607.5 L330.4,608.9 L330.0,610.1 L329.6,611.2 L329.1,612.2 L328.6,613.1 L328.1,613.8 L327.5,614.4 L326.9,614.8 L326.3,615.1 L325.8,615.2" stroke="#3f5f7c" stroke-width="8.5"/><path d="M314.3,566.3 L315.5,566.4 L316.7,566.7 L317.8,567.1 L319.0,567.7 L320.1,568.4 L321.2,569.3 L322.2,570.3 L323.3,571.4 L324.2,572.6 L325.2,574.0 L326.1,575.5 L326.9,577.0 L327.6,578.7 L328.3,580.4 L329.0,582.2 L329.6,584.0 L330.1,585.9 L330.5,587.9 L330.9,589.8 L331.2,591.7 L331.4,593.7 L331.5,595.6 L331.6,597.5 L331.6,599.3 L331.6,601.1 L331.5,602.8 L331.3,604.5 L331.0,606.0 L330.7,607.5 L330.4,608.9 L330.0,610.1 L329.6,611.2 L329.1,612.2 L328.6,613.1 L328.1,613.8 L327.5,614.4 L326.9,614.8 L326.3,615.1 L325.8,615.2" stroke="#6f93b4" stroke-width="5.9"/><path d="M314.3,566.3 L315.5,566.4 L316.7,566.7 L317.8,567.1 L319.0,567.7 L320.1,568.4 L321.2,569.3 L322.2,570.3 L323.3,571.4 L324.2,572.6 L325.2,574.0 L326.1,575.5 L326.9,577.0 L327.6,578.7 L328.3,580.4 L329.0,582.2 L329.6,584.0 L330.1,585.9 L330.5,587.9 L330.9,589.8 L331.2,591.7 L331.4,593.7 L331.5,595.6 L331.6,597.5 L331.6,599.3 L331.6,601.1 L331.5,602.8 L331.3,604.5 L331.0,606.0 L330.7,607.5 L330.4,608.9 L330.0,610.1 L329.6,611.2 L329.1,612.2 L328.6,613.1 L328.1,613.8 L327.5,614.4 L326.9,614.8 L326.3,615.1 L325.8,615.2" stroke="#8fb0cc" stroke-width="1.5" transform="translate(-1.0,-0.6)" opacity="0.85"/><path d="M337.2,570.2 L338.4,570.3 L339.6,570.6 L340.7,571.0 L341.9,571.6 L343.0,572.3 L344.1,573.2 L345.1,574.2 L346.2,575.3 L347.1,576.5 L348.1,577.9 L349.0,579.4 L349.8,580.9 L350.5,582.6 L351.2,584.3 L351.9,586.1 L352.5,587.9 L353.0,589.8 L353.4,591.7 L353.8,593.7 L354.1,595.6 L354.3,597.6 L354.4,599.5 L354.5,601.4 L354.5,603.2 L354.5,605.0 L354.4,606.7 L354.2,608.4 L353.9,609.9 L353.6,611.4 L353.3,612.8 L352.9,614.0 L352.5,615.1 L352.0,616.1 L351.5,617.0 L351.0,617.7 L350.4,618.3 L349.8,618.7 L349.2,619.0 L348.6,619.1" stroke="#3f5f7c" stroke-width="8.5"/><path d="M337.2,570.2 L338.4,570.3 L339.6,570.6 L340.7,571.0 L341.9,571.6 L343.0,572.3 L344.1,573.2 L345.1,574.2 L346.2,575.3 L347.1,576.5 L348.1,577.9 L349.0,579.4 L349.8,580.9 L350.5,582.6 L351.2,584.3 L351.9,586.1 L352.5,587.9 L353.0,589.8 L353.4,591.7 L353.8,593.7 L354.1,595.6 L354.3,597.6 L354.4,599.5 L354.5,601.4 L354.5,603.2 L354.5,605.0 L354.4,606.7 L354.2,608.4 L353.9,609.9 L353.6,611.4 L353.3,612.8 L352.9,614.0 L352.5,615.1 L352.0,616.1 L351.5,617.0 L351.0,617.7 L350.4,618.3 L349.8,618.7 L349.2,619.0 L348.6,619.1" stroke="#6f93b4" stroke-width="5.9"/><path d="M337.2,570.2 L338.4,570.3 L339.6,570.6 L340.7,571.0 L341.9,571.6 L343.0,572.3 L344.1,573.2 L345.1,574.2 L346.2,575.3 L347.1,576.5 L348.1,577.9 L349.0,579.4 L349.8,580.9 L350.5,582.6 L351.2,584.3 L351.9,586.1 L352.5,587.9 L353.0,589.8 L353.4,591.7 L353.8,593.7 L354.1,595.6 L354.3,597.6 L354.4,599.5 L354.5,601.4 L354.5,603.2 L354.5,605.0 L354.4,606.7 L354.2,608.4 L353.9,609.9 L353.6,611.4 L353.3,612.8 L352.9,614.0 L352.5,615.1 L352.0,616.1 L351.5,617.0 L351.0,617.7 L350.4,618.3 L349.8,618.7 L349.2,619.0 L348.6,619.1" stroke="#8fb0cc" stroke-width="1.5" transform="translate(-1.0,-0.6)" opacity="0.85"/><path d="M360.1,574.1 L361.3,574.2 L362.5,574.5 L363.7,574.9 L364.9,575.5 L366.0,576.3 L367.1,577.2 L368.2,578.2 L369.2,579.4 L370.2,580.7 L371.2,582.1 L372.1,583.7 L372.9,585.3 L373.7,587.0 L374.4,588.8 L375.0,590.6 L375.6,592.5" stroke="#3f5f7c" stroke-width="8.5"/><path d="M360.1,574.1 L361.3,574.2 L362.5,574.5 L363.7,574.9 L364.9,575.5 L366.0,576.3 L367.1,577.2 L368.2,578.2 L369.2,579.4 L370.2,580.7 L371.2,582.1 L372.1,583.7 L372.9,585.3 L373.7,587.0 L374.4,588.8 L375.0,590.6 L375.6,592.5" stroke="#6f93b4" stroke-width="5.9"/><path d="M360.1,574.1 L361.3,574.2 L362.5,574.5 L363.7,574.9 L364.9,575.5 L366.0,576.3 L367.1,577.2 L368.2,578.2 L369.2,579.4 L370.2,580.7 L371.2,582.1 L372.1,583.7 L372.9,585.3 L373.7,587.0 L374.4,588.8 L375.0,590.6 L375.6,592.5" stroke="#8fb0cc" stroke-width="1.5" transform="translate(-1.0,-0.6)" opacity="0.85"/></g>
<line x1="244.0" y1="573.7" x2="432.4" y2="619.7" stroke="#cc0a0a" stroke-width="4.5" /><polygon points="446.0,623.0 428.7,626.5 432.2,611.9" fill="#cc0a0a" stroke="none" stroke-width="0.0" stroke-linejoin="round" />
<g clip-path="url(#clipC1in)" fill="none" stroke-linecap="round" stroke-linejoin="round"><path d="M257.1,603.6 L256.5,603.5 L255.9,603.3 L255.3,603.0 L254.7,602.5 L254.2,601.9 L253.7,601.2 L253.2,600.3 L252.8,599.2 L252.4,598.1 L252.1,596.8 L251.8,595.5 L251.5,594.0 L251.3,592.5 L251.2,590.8 L251.2,589.1 L251.2,587.4 L251.3,585.6 L251.4,583.8 L251.6,581.9 L251.9,580.1 L252.3,578.3 L252.7,576.5 L253.2,574.7 L253.8,572.9 L254.5,571.2 L255.2,569.6 L255.9,568.1 L256.7,566.6 L257.6,565.2 L258.6,564.0 L259.5,562.8 L260.6,561.8 L261.6,560.9 L262.7,560.1 L263.8,559.5 L265.0,559.0 L266.1,558.7 L267.3,558.5 L268.5,558.5" stroke="#435d76" stroke-width="8.5"/><path d="M257.1,603.6 L256.5,603.5 L255.9,603.3 L255.3,603.0 L254.7,602.5 L254.2,601.9 L253.7,601.2 L253.2,600.3 L252.8,599.2 L252.4,598.1 L252.1,596.8 L251.8,595.5 L251.5,594.0 L251.3,592.5 L251.2,590.8 L251.2,589.1 L251.2,587.4 L251.3,585.6 L251.4,583.8 L251.6,581.9 L251.9,580.1 L252.3,578.3 L252.7,576.5 L253.2,574.7 L253.8,572.9 L254.5,571.2 L255.2,569.6 L255.9,568.1 L256.7,566.6 L257.6,565.2 L258.6,564.0 L259.5,562.8 L260.6,561.8 L261.6,560.9 L262.7,560.1 L263.8,559.5 L265.0,559.0 L266.1,558.7 L267.3,558.5 L268.5,558.5" stroke="#7893ab" stroke-width="5.9"/><path d="M257.1,603.6 L256.5,603.5 L255.9,603.3 L255.3,603.0 L254.7,602.5 L254.2,601.9 L253.7,601.2 L253.2,600.3 L252.8,599.2 L252.4,598.1 L252.1,596.8 L251.8,595.5 L251.5,594.0 L251.3,592.5 L251.2,590.8 L251.2,589.1 L251.2,587.4 L251.3,585.6 L251.4,583.8 L251.6,581.9 L251.9,580.1 L252.3,578.3 L252.7,576.5 L253.2,574.7 L253.8,572.9 L254.5,571.2 L255.2,569.6 L255.9,568.1 L256.7,566.6 L257.6,565.2 L258.6,564.0 L259.5,562.8 L260.6,561.8 L261.6,560.9 L262.7,560.1 L263.8,559.5 L265.0,559.0 L266.1,558.7 L267.3,558.5 L268.5,558.5" stroke="#a6bbcc" stroke-width="1.5" transform="translate(-1.0,-0.6)" opacity="0.85"/><path d="M279.9,607.4 L279.4,607.4 L278.8,607.2 L278.2,606.9 L277.6,606.4 L277.1,605.8 L276.6,605.1 L276.1,604.2 L275.7,603.1 L275.3,602.0 L275.0,600.7 L274.7,599.4 L274.4,597.9 L274.2,596.3 L274.1,594.7 L274.1,593.0 L274.1,591.3 L274.2,589.5 L274.3,587.7 L274.5,585.8 L274.8,584.0 L275.2,582.2 L275.6,580.3 L276.1,578.6 L276.7,576.8 L277.4,575.1 L278.1,573.5 L278.8,571.9 L279.6,570.5 L280.5,569.1 L281.5,567.9 L282.4,566.7 L283.5,565.7 L284.5,564.8 L285.6,564.0 L286.7,563.4 L287.9,562.9 L289.0,562.6 L290.2,562.4 L291.4,562.4" stroke="#435d76" stroke-width="8.5"/><path d="M279.9,607.4 L279.4,607.4 L278.8,607.2 L278.2,606.9 L277.6,606.4 L277.1,605.8 L276.6,605.1 L276.1,604.2 L275.7,603.1 L275.3,602.0 L275.0,600.7 L274.7,599.4 L274.4,597.9 L274.2,596.3 L274.1,594.7 L274.1,593.0 L274.1,591.3 L274.2,589.5 L274.3,587.7 L274.5,585.8 L274.8,584.0 L275.2,582.2 L275.6,580.3 L276.1,578.6 L276.7,576.8 L277.4,575.1 L278.1,573.5 L278.8,571.9 L279.6,570.5 L280.5,569.1 L281.5,567.9 L282.4,566.7 L283.5,565.7 L284.5,564.8 L285.6,564.0 L286.7,563.4 L287.9,562.9 L289.0,562.6 L290.2,562.4 L291.4,562.4" stroke="#7893ab" stroke-width="5.9"/><path d="M279.9,607.4 L279.4,607.4 L278.8,607.2 L278.2,606.9 L277.6,606.4 L277.1,605.8 L276.6,605.1 L276.1,604.2 L275.7,603.1 L275.3,602.0 L275.0,600.7 L274.7,599.4 L274.4,597.9 L274.2,596.3 L274.1,594.7 L274.1,593.0 L274.1,591.3 L274.2,589.5 L274.3,587.7 L274.5,585.8 L274.8,584.0 L275.2,582.2 L275.6,580.3 L276.1,578.6 L276.7,576.8 L277.4,575.1 L278.1,573.5 L278.8,571.9 L279.6,570.5 L280.5,569.1 L281.5,567.9 L282.4,566.7 L283.5,565.7 L284.5,564.8 L285.6,564.0 L286.7,563.4 L287.9,562.9 L289.0,562.6 L290.2,562.4 L291.4,562.4" stroke="#a6bbcc" stroke-width="1.5" transform="translate(-1.0,-0.6)" opacity="0.85"/><path d="M302.9,611.3 L302.3,611.3 L301.7,611.1 L301.1,610.8 L300.5,610.3 L300.0,609.7 L299.5,608.9 L299.0,608.1 L298.6,607.0 L298.2,605.9 L297.9,604.6 L297.6,603.3 L297.3,601.8 L297.1,600.2 L297.0,598.6 L297.0,596.9 L297.0,595.2 L297.1,593.4 L297.2,591.6 L297.4,589.7 L297.7,587.9 L298.1,586.1 L298.5,584.2 L299.0,582.4 L299.6,580.7 L300.3,579.0 L301.0,577.4 L301.7,575.8 L302.5,574.4 L303.4,573.0 L304.4,571.7 L305.3,570.6 L306.4,569.6 L307.4,568.7 L308.5,567.9 L309.6,567.3 L310.8,566.8 L311.9,566.5 L313.1,566.3 L314.3,566.3" stroke="#435d76" stroke-width="8.5"/><path d="M302.9,611.3 L302.3,611.3 L301.7,611.1 L301.1,610.8 L300.5,610.3 L300.0,609.7 L299.5,608.9 L299.0,608.1 L298.6,607.0 L298.2,605.9 L297.9,604.6 L297.6,603.3 L297.3,601.8 L297.1,600.2 L297.0,598.6 L297.0,596.9 L297.0,595.2 L297.1,593.4 L297.2,591.6 L297.4,589.7 L297.7,587.9 L298.1,586.1 L298.5,584.2 L299.0,582.4 L299.6,580.7 L300.3,579.0 L301.0,577.4 L301.7,575.8 L302.5,574.4 L303.4,573.0 L304.4,571.7 L305.3,570.6 L306.4,569.6 L307.4,568.7 L308.5,567.9 L309.6,567.3 L310.8,566.8 L311.9,566.5 L313.1,566.3 L314.3,566.3" stroke="#7893ab" stroke-width="5.9"/><path d="M302.9,611.3 L302.3,611.3 L301.7,611.1 L301.1,610.8 L300.5,610.3 L300.0,609.7 L299.5,608.9 L299.0,608.1 L298.6,607.0 L298.2,605.9 L297.9,604.6 L297.6,603.3 L297.3,601.8 L297.1,600.2 L297.0,598.6 L297.0,596.9 L297.0,595.2 L297.1,593.4 L297.2,591.6 L297.4,589.7 L297.7,587.9 L298.1,586.1 L298.5,584.2 L299.0,582.4 L299.6,580.7 L300.3,579.0 L301.0,577.4 L301.7,575.8 L302.5,574.4 L303.4,573.0 L304.4,571.7 L305.3,570.6 L306.4,569.6 L307.4,568.7 L308.5,567.9 L309.6,567.3 L310.8,566.8 L311.9,566.5 L313.1,566.3 L314.3,566.3" stroke="#a6bbcc" stroke-width="1.5" transform="translate(-1.0,-0.6)" opacity="0.85"/><path d="M325.8,615.2 L325.2,615.2 L324.6,615.0 L324.0,614.7 L323.4,614.2 L322.9,613.6 L322.4,612.8 L321.9,611.9 L321.5,610.9 L321.1,609.8 L320.8,608.5 L320.5,607.1 L320.2,605.7 L320.0,604.1 L319.9,602.5 L319.9,600.8 L319.9,599.1 L320.0,597.3 L320.1,595.5 L320.3,593.6 L320.6,591.8 L321.0,589.9 L321.4,588.1 L321.9,586.3 L322.5,584.6 L323.2,582.9 L323.9,581.3 L324.6,579.7 L325.4,578.3 L326.3,576.9 L327.3,575.6 L328.2,574.5 L329.3,573.5 L330.3,572.6 L331.4,571.8 L332.5,571.2 L333.7,570.7 L334.8,570.4 L336.0,570.2 L337.2,570.2" stroke="#435d76" stroke-width="8.5"/><path d="M325.8,615.2 L325.2,615.2 L324.6,615.0 L324.0,614.7 L323.4,614.2 L322.9,613.6 L322.4,612.8 L321.9,611.9 L321.5,610.9 L321.1,609.8 L320.8,608.5 L320.5,607.1 L320.2,605.7 L320.0,604.1 L319.9,602.5 L319.9,600.8 L319.9,599.1 L320.0,597.3 L320.1,595.5 L320.3,593.6 L320.6,591.8 L321.0,589.9 L321.4,588.1 L321.9,586.3 L322.5,584.6 L323.2,582.9 L323.9,581.3 L324.6,579.7 L325.4,578.3 L326.3,576.9 L327.3,575.6 L328.2,574.5 L329.3,573.5 L330.3,572.6 L331.4,571.8 L332.5,571.2 L333.7,570.7 L334.8,570.4 L336.0,570.2 L337.2,570.2" stroke="#7893ab" stroke-width="5.9"/><path d="M325.8,615.2 L325.2,615.2 L324.6,615.0 L324.0,614.7 L323.4,614.2 L322.9,613.6 L322.4,612.8 L321.9,611.9 L321.5,610.9 L321.1,609.8 L320.8,608.5 L320.5,607.1 L320.2,605.7 L320.0,604.1 L319.9,602.5 L319.9,600.8 L319.9,599.1 L320.0,597.3 L320.1,595.5 L320.3,593.6 L320.6,591.8 L321.0,589.9 L321.4,588.1 L321.9,586.3 L322.5,584.6 L323.2,582.9 L323.9,581.3 L324.6,579.7 L325.4,578.3 L326.3,576.9 L327.3,575.6 L328.2,574.5 L329.3,573.5 L330.3,572.6 L331.4,571.8 L332.5,571.2 L333.7,570.7 L334.8,570.4 L336.0,570.2 L337.2,570.2" stroke="#a6bbcc" stroke-width="1.5" transform="translate(-1.0,-0.6)" opacity="0.85"/><path d="M348.6,619.1 L348.1,619.1 L347.5,618.9 L346.9,618.6 L346.3,618.1 L345.8,617.5 L345.3,616.7 L344.8,615.8 L344.4,614.8 L344.0,613.7 L343.7,612.4 L343.4,611.0 L343.1,609.6 L342.9,608.0 L342.8,606.4 L342.8,604.7 L342.8,603.0 L342.9,601.2 L343.0,599.4 L343.2,597.5 L343.5,595.7 L343.9,593.8 L344.3,592.0 L344.8,590.2 L345.4,588.5 L346.1,586.8 L346.8,585.2 L347.5,583.6 L348.3,582.2 L349.2,580.8 L350.2,579.5 L351.1,578.4 L352.2,577.4 L353.2,576.5 L354.3,575.7 L355.4,575.1 L356.6,574.6 L357.7,574.3 L358.9,574.1 L360.1,574.1" stroke="#435d76" stroke-width="8.5"/><path d="M348.6,619.1 L348.1,619.1 L347.5,618.9 L346.9,618.6 L346.3,618.1 L345.8,617.5 L345.3,616.7 L344.8,615.8 L344.4,614.8 L344.0,613.7 L343.7,612.4 L343.4,611.0 L343.1,609.6 L342.9,608.0 L342.8,606.4 L342.8,604.7 L342.8,603.0 L342.9,601.2 L343.0,599.4 L343.2,597.5 L343.5,595.7 L343.9,593.8 L344.3,592.0 L344.8,590.2 L345.4,588.5 L346.1,586.8 L346.8,585.2 L347.5,583.6 L348.3,582.2 L349.2,580.8 L350.2,579.5 L351.1,578.4 L352.2,577.4 L353.2,576.5 L354.3,575.7 L355.4,575.1 L356.6,574.6 L357.7,574.3 L358.9,574.1 L360.1,574.1" stroke="#7893ab" stroke-width="5.9"/><path d="M348.6,619.1 L348.1,619.1 L347.5,618.9 L346.9,618.6 L346.3,618.1 L345.8,617.5 L345.3,616.7 L344.8,615.8 L344.4,614.8 L344.0,613.7 L343.7,612.4 L343.4,611.0 L343.1,609.6 L342.9,608.0 L342.8,606.4 L342.8,604.7 L342.8,603.0 L342.9,601.2 L343.0,599.4 L343.2,597.5 L343.5,595.7 L343.9,593.8 L344.3,592.0 L344.8,590.2 L345.4,588.5 L346.1,586.8 L346.8,585.2 L347.5,583.6 L348.3,582.2 L349.2,580.8 L350.2,579.5 L351.1,578.4 L352.2,577.4 L353.2,576.5 L354.3,575.7 L355.4,575.1 L356.6,574.6 L357.7,574.3 L358.9,574.1 L360.1,574.1" stroke="#a6bbcc" stroke-width="1.5" transform="translate(-1.0,-0.6)" opacity="0.85"/></g>
<g clip-path="url(#clipC1out)" fill="none" stroke-linecap="round" stroke-linejoin="round"><path d="M257.1,603.6 L256.5,603.5 L255.9,603.3 L255.3,603.0 L254.7,602.5 L254.2,601.9 L253.7,601.2 L253.2,600.3 L252.8,599.2 L252.4,598.1 L252.1,596.8 L251.8,595.5 L251.5,594.0 L251.3,592.5 L251.2,590.8 L251.2,589.1 L251.2,587.4 L251.3,585.6 L251.4,583.8 L251.6,581.9 L251.9,580.1 L252.3,578.3 L252.7,576.5 L253.2,574.7 L253.8,572.9 L254.5,571.2 L255.2,569.6 L255.9,568.1 L256.7,566.6 L257.6,565.2 L258.6,564.0 L259.5,562.8 L260.6,561.8 L261.6,560.9 L262.7,560.1 L263.8,559.5 L265.0,559.0 L266.1,558.7 L267.3,558.5 L268.5,558.5" stroke="#5a83a8" stroke-width="8.5"/><path d="M257.1,603.6 L256.5,603.5 L255.9,603.3 L255.3,603.0 L254.7,602.5 L254.2,601.9 L253.7,601.2 L253.2,600.3 L252.8,599.2 L252.4,598.1 L252.1,596.8 L251.8,595.5 L251.5,594.0 L251.3,592.5 L251.2,590.8 L251.2,589.1 L251.2,587.4 L251.3,585.6 L251.4,583.8 L251.6,581.9 L251.9,580.1 L252.3,578.3 L252.7,576.5 L253.2,574.7 L253.8,572.9 L254.5,571.2 L255.2,569.6 L255.9,568.1 L256.7,566.6 L257.6,565.2 L258.6,564.0 L259.5,562.8 L260.6,561.8 L261.6,560.9 L262.7,560.1 L263.8,559.5 L265.0,559.0 L266.1,558.7 L267.3,558.5 L268.5,558.5" stroke="#a9d0ef" stroke-width="5.9"/><path d="M257.1,603.6 L256.5,603.5 L255.9,603.3 L255.3,603.0 L254.7,602.5 L254.2,601.9 L253.7,601.2 L253.2,600.3 L252.8,599.2 L252.4,598.1 L252.1,596.8 L251.8,595.5 L251.5,594.0 L251.3,592.5 L251.2,590.8 L251.2,589.1 L251.2,587.4 L251.3,585.6 L251.4,583.8 L251.6,581.9 L251.9,580.1 L252.3,578.3 L252.7,576.5 L253.2,574.7 L253.8,572.9 L254.5,571.2 L255.2,569.6 L255.9,568.1 L256.7,566.6 L257.6,565.2 L258.6,564.0 L259.5,562.8 L260.6,561.8 L261.6,560.9 L262.7,560.1 L263.8,559.5 L265.0,559.0 L266.1,558.7 L267.3,558.5 L268.5,558.5" stroke="#eaf5fd" stroke-width="1.5" transform="translate(-1.0,-0.6)" opacity="0.85"/><path d="M279.9,607.4 L279.4,607.4 L278.8,607.2 L278.2,606.9 L277.6,606.4 L277.1,605.8 L276.6,605.1 L276.1,604.2 L275.7,603.1 L275.3,602.0 L275.0,600.7 L274.7,599.4 L274.4,597.9 L274.2,596.3 L274.1,594.7 L274.1,593.0 L274.1,591.3 L274.2,589.5 L274.3,587.7 L274.5,585.8 L274.8,584.0 L275.2,582.2 L275.6,580.3 L276.1,578.6 L276.7,576.8 L277.4,575.1 L278.1,573.5 L278.8,571.9 L279.6,570.5 L280.5,569.1 L281.5,567.9 L282.4,566.7 L283.5,565.7 L284.5,564.8 L285.6,564.0 L286.7,563.4 L287.9,562.9 L289.0,562.6 L290.2,562.4 L291.4,562.4" stroke="#5a83a8" stroke-width="8.5"/><path d="M279.9,607.4 L279.4,607.4 L278.8,607.2 L278.2,606.9 L277.6,606.4 L277.1,605.8 L276.6,605.1 L276.1,604.2 L275.7,603.1 L275.3,602.0 L275.0,600.7 L274.7,599.4 L274.4,597.9 L274.2,596.3 L274.1,594.7 L274.1,593.0 L274.1,591.3 L274.2,589.5 L274.3,587.7 L274.5,585.8 L274.8,584.0 L275.2,582.2 L275.6,580.3 L276.1,578.6 L276.7,576.8 L277.4,575.1 L278.1,573.5 L278.8,571.9 L279.6,570.5 L280.5,569.1 L281.5,567.9 L282.4,566.7 L283.5,565.7 L284.5,564.8 L285.6,564.0 L286.7,563.4 L287.9,562.9 L289.0,562.6 L290.2,562.4 L291.4,562.4" stroke="#a9d0ef" stroke-width="5.9"/><path d="M279.9,607.4 L279.4,607.4 L278.8,607.2 L278.2,606.9 L277.6,606.4 L277.1,605.8 L276.6,605.1 L276.1,604.2 L275.7,603.1 L275.3,602.0 L275.0,600.7 L274.7,599.4 L274.4,597.9 L274.2,596.3 L274.1,594.7 L274.1,593.0 L274.1,591.3 L274.2,589.5 L274.3,587.7 L274.5,585.8 L274.8,584.0 L275.2,582.2 L275.6,580.3 L276.1,578.6 L276.7,576.8 L277.4,575.1 L278.1,573.5 L278.8,571.9 L279.6,570.5 L280.5,569.1 L281.5,567.9 L282.4,566.7 L283.5,565.7 L284.5,564.8 L285.6,564.0 L286.7,563.4 L287.9,562.9 L289.0,562.6 L290.2,562.4 L291.4,562.4" stroke="#eaf5fd" stroke-width="1.5" transform="translate(-1.0,-0.6)" opacity="0.85"/><path d="M302.9,611.3 L302.3,611.3 L301.7,611.1 L301.1,610.8 L300.5,610.3 L300.0,609.7 L299.5,608.9 L299.0,608.1 L298.6,607.0 L298.2,605.9 L297.9,604.6 L297.6,603.3 L297.3,601.8 L297.1,600.2 L297.0,598.6 L297.0,596.9 L297.0,595.2 L297.1,593.4 L297.2,591.6 L297.4,589.7 L297.7,587.9 L298.1,586.1 L298.5,584.2 L299.0,582.4 L299.6,580.7 L300.3,579.0 L301.0,577.4 L301.7,575.8 L302.5,574.4 L303.4,573.0 L304.4,571.7 L305.3,570.6 L306.4,569.6 L307.4,568.7 L308.5,567.9 L309.6,567.3 L310.8,566.8 L311.9,566.5 L313.1,566.3 L314.3,566.3" stroke="#5a83a8" stroke-width="8.5"/><path d="M302.9,611.3 L302.3,611.3 L301.7,611.1 L301.1,610.8 L300.5,610.3 L300.0,609.7 L299.5,608.9 L299.0,608.1 L298.6,607.0 L298.2,605.9 L297.9,604.6 L297.6,603.3 L297.3,601.8 L297.1,600.2 L297.0,598.6 L297.0,596.9 L297.0,595.2 L297.1,593.4 L297.2,591.6 L297.4,589.7 L297.7,587.9 L298.1,586.1 L298.5,584.2 L299.0,582.4 L299.6,580.7 L300.3,579.0 L301.0,577.4 L301.7,575.8 L302.5,574.4 L303.4,573.0 L304.4,571.7 L305.3,570.6 L306.4,569.6 L307.4,568.7 L308.5,567.9 L309.6,567.3 L310.8,566.8 L311.9,566.5 L313.1,566.3 L314.3,566.3" stroke="#a9d0ef" stroke-width="5.9"/><path d="M302.9,611.3 L302.3,611.3 L301.7,611.1 L301.1,610.8 L300.5,610.3 L300.0,609.7 L299.5,608.9 L299.0,608.1 L298.6,607.0 L298.2,605.9 L297.9,604.6 L297.6,603.3 L297.3,601.8 L297.1,600.2 L297.0,598.6 L297.0,596.9 L297.0,595.2 L297.1,593.4 L297.2,591.6 L297.4,589.7 L297.7,587.9 L298.1,586.1 L298.5,584.2 L299.0,582.4 L299.6,580.7 L300.3,579.0 L301.0,577.4 L301.7,575.8 L302.5,574.4 L303.4,573.0 L304.4,571.7 L305.3,570.6 L306.4,569.6 L307.4,568.7 L308.5,567.9 L309.6,567.3 L310.8,566.8 L311.9,566.5 L313.1,566.3 L314.3,566.3" stroke="#eaf5fd" stroke-width="1.5" transform="translate(-1.0,-0.6)" opacity="0.85"/><path d="M325.8,615.2 L325.2,615.2 L324.6,615.0 L324.0,614.7 L323.4,614.2 L322.9,613.6 L322.4,612.8 L321.9,611.9 L321.5,610.9 L321.1,609.8 L320.8,608.5 L320.5,607.1 L320.2,605.7 L320.0,604.1 L319.9,602.5 L319.9,600.8 L319.9,599.1 L320.0,597.3 L320.1,595.5 L320.3,593.6 L320.6,591.8 L321.0,589.9 L321.4,588.1 L321.9,586.3 L322.5,584.6 L323.2,582.9 L323.9,581.3 L324.6,579.7 L325.4,578.3 L326.3,576.9 L327.3,575.6 L328.2,574.5 L329.3,573.5 L330.3,572.6 L331.4,571.8 L332.5,571.2 L333.7,570.7 L334.8,570.4 L336.0,570.2 L337.2,570.2" stroke="#5a83a8" stroke-width="8.5"/><path d="M325.8,615.2 L325.2,615.2 L324.6,615.0 L324.0,614.7 L323.4,614.2 L322.9,613.6 L322.4,612.8 L321.9,611.9 L321.5,610.9 L321.1,609.8 L320.8,608.5 L320.5,607.1 L320.2,605.7 L320.0,604.1 L319.9,602.5 L319.9,600.8 L319.9,599.1 L320.0,597.3 L320.1,595.5 L320.3,593.6 L320.6,591.8 L321.0,589.9 L321.4,588.1 L321.9,586.3 L322.5,584.6 L323.2,582.9 L323.9,581.3 L324.6,579.7 L325.4,578.3 L326.3,576.9 L327.3,575.6 L328.2,574.5 L329.3,573.5 L330.3,572.6 L331.4,571.8 L332.5,571.2 L333.7,570.7 L334.8,570.4 L336.0,570.2 L337.2,570.2" stroke="#a9d0ef" stroke-width="5.9"/><path d="M325.8,615.2 L325.2,615.2 L324.6,615.0 L324.0,614.7 L323.4,614.2 L322.9,613.6 L322.4,612.8 L321.9,611.9 L321.5,610.9 L321.1,609.8 L320.8,608.5 L320.5,607.1 L320.2,605.7 L320.0,604.1 L319.9,602.5 L319.9,600.8 L319.9,599.1 L320.0,597.3 L320.1,595.5 L320.3,593.6 L320.6,591.8 L321.0,589.9 L321.4,588.1 L321.9,586.3 L322.5,584.6 L323.2,582.9 L323.9,581.3 L324.6,579.7 L325.4,578.3 L326.3,576.9 L327.3,575.6 L328.2,574.5 L329.3,573.5 L330.3,572.6 L331.4,571.8 L332.5,571.2 L333.7,570.7 L334.8,570.4 L336.0,570.2 L337.2,570.2" stroke="#eaf5fd" stroke-width="1.5" transform="translate(-1.0,-0.6)" opacity="0.85"/><path d="M348.6,619.1 L348.1,619.1 L347.5,618.9 L346.9,618.6 L346.3,618.1 L345.8,617.5 L345.3,616.7 L344.8,615.8 L344.4,614.8 L344.0,613.7 L343.7,612.4 L343.4,611.0 L343.1,609.6 L342.9,608.0 L342.8,606.4 L342.8,604.7 L342.8,603.0 L342.9,601.2 L343.0,599.4 L343.2,597.5 L343.5,595.7 L343.9,593.8 L344.3,592.0 L344.8,590.2 L345.4,588.5 L346.1,586.8 L346.8,585.2 L347.5,583.6 L348.3,582.2 L349.2,580.8 L350.2,579.5 L351.1,578.4 L352.2,577.4 L353.2,576.5 L354.3,575.7 L355.4,575.1 L356.6,574.6 L357.7,574.3 L358.9,574.1 L360.1,574.1" stroke="#5a83a8" stroke-width="8.5"/><path d="M348.6,619.1 L348.1,619.1 L347.5,618.9 L346.9,618.6 L346.3,618.1 L345.8,617.5 L345.3,616.7 L344.8,615.8 L344.4,614.8 L344.0,613.7 L343.7,612.4 L343.4,611.0 L343.1,609.6 L342.9,608.0 L342.8,606.4 L342.8,604.7 L342.8,603.0 L342.9,601.2 L343.0,599.4 L343.2,597.5 L343.5,595.7 L343.9,593.8 L344.3,592.0 L344.8,590.2 L345.4,588.5 L346.1,586.8 L346.8,585.2 L347.5,583.6 L348.3,582.2 L349.2,580.8 L350.2,579.5 L351.1,578.4 L352.2,577.4 L353.2,576.5 L354.3,575.7 L355.4,575.1 L356.6,574.6 L357.7,574.3 L358.9,574.1 L360.1,574.1" stroke="#a9d0ef" stroke-width="5.9"/><path d="M348.6,619.1 L348.1,619.1 L347.5,618.9 L346.9,618.6 L346.3,618.1 L345.8,617.5 L345.3,616.7 L344.8,615.8 L344.4,614.8 L344.0,613.7 L343.7,612.4 L343.4,611.0 L343.1,609.6 L342.9,608.0 L342.8,606.4 L342.8,604.7 L342.8,603.0 L342.9,601.2 L343.0,599.4 L343.2,597.5 L343.5,595.7 L343.9,593.8 L344.3,592.0 L344.8,590.2 L345.4,588.5 L346.1,586.8 L346.8,585.2 L347.5,583.6 L348.3,582.2 L349.2,580.8 L350.2,579.5 L351.1,578.4 L352.2,577.4 L353.2,576.5 L354.3,575.7 L355.4,575.1 L356.6,574.6 L357.7,574.3 L358.9,574.1 L360.1,574.1" stroke="#eaf5fd" stroke-width="1.5" transform="translate(-1.0,-0.6)" opacity="0.85"/></g>
<g transform="translate(385,603) rotate(12)"><ellipse cx="0" cy="0" rx="13.5" ry="30" fill="none" stroke="#9ec9ec" stroke-width="2.6"/></g>
<polygon points="391.0,596.0 404.0,596.0 398.0,608.0" fill="#9ec9ec" stroke="none" stroke-width="0.0" stroke-linejoin="round" />
<g transform="translate(149.3,548.7) rotate(-37.0)"><path d="M-41.5,0.0 L-28.0,-15.5 L-28.0,-8.2 L28.0,-8.2 L28.0,-15.5 L41.5,0.0 L28.0,15.5 L28.0,8.2 L-28.0,8.2 L-28.0,15.5 Z" fill="none" stroke="#2f6a24" stroke-width="9.0" stroke-linejoin="round" opacity="0.45" filter="url(#blur2)"/><path d="M-41.5,0.0 L-28.0,-15.5 L-28.0,-8.2 L28.0,-8.2 L28.0,-15.5 L41.5,0.0 L28.0,15.5 L28.0,8.2 L-28.0,8.2 L-28.0,15.5 Z" fill="url(#gfill)" stroke="#2b5f20" stroke-width="4.0" stroke-linejoin="round"/><line x1="-31.4" y1="-0.5" x2="31.4" y2="-0.5" stroke="#ffffff" stroke-width="3.7" stroke-linecap="round" opacity="0.85"/></g>
<line x1="110.2" y1="541.0" x2="191.0" y2="560.7" stroke="#cc0a0a" stroke-width="4.5" />
<text x="100.0" y="609.5" class="lb">x<tspan dy="4.5">_</tspan><tspan dy="-4.5">LP</tspan></text>
<text x="375.5" y="566" class="lb2">RCP</text>
<polygon points="135,812 194,826 194,862 135,846" fill="url(#beamG)" filter="url(#blur3)"/>
<polygon points="189.0,781.0 241.5,757.5 241.5,874.5 189.0,898.0" fill="url(#leftG)" stroke="none" stroke-width="0.0" stroke-linejoin="round" /><polygon points="189.0,781.0 241.5,757.5 241.5,784.7" fill="url(#topG)" stroke="none" stroke-width="0.0" stroke-linejoin="round" /><polygon points="241.5,757.5 291.5,761.0 291.5,878.0 241.5,874.5" fill="url(#backG)" stroke="none" stroke-width="0.0" stroke-linejoin="round" /><polygon points="189.0,898.0 241.5,874.5 291.5,878.0 239.0,901.5" fill="#cbcbcb" stroke="none" stroke-width="0.0" stroke-linejoin="round" /><polygon points="189.0,781.0 239.0,784.5 239.0,901.5 189.0,898.0" fill="rgba(235,235,235,0.0)" stroke="none" stroke-width="0.0" stroke-linejoin="round" /><line x1="189.0" y1="781.0" x2="241.5" y2="757.5" stroke="#767373" stroke-width="2.8" stroke-linecap="round"/><line x1="241.5" y1="757.5" x2="291.5" y2="761.0" stroke="#767373" stroke-width="2.8" stroke-linecap="round"/><line x1="291.5" y1="761.0" x2="291.5" y2="878.0" stroke="#767373" stroke-width="2.8" stroke-linecap="round"/><line x1="189.0" y1="781.0" x2="189.0" y2="898.0" stroke="#767373" stroke-width="2.8" stroke-linecap="round"/><line x1="189.0" y1="898.0" x2="239.0" y2="901.5" stroke="#767373" stroke-width="2.8" stroke-linecap="round"/><line x1="239.0" y1="901.5" x2="291.5" y2="878.0" stroke="#767373" stroke-width="2.8" stroke-linecap="round"/><line x1="241.5" y1="757.5" x2="241.5" y2="874.5" stroke="#767373" stroke-width="2.8" stroke-linecap="round"/><line x1="189.0" y1="898.0" x2="241.5" y2="874.5" stroke="#767373" stroke-width="2.8" stroke-linecap="round"/><line x1="239.0" y1="784.5" x2="239.0" y2="901.5" stroke="#767373" stroke-width="2.8" stroke-linecap="round"/><line x1="189.0" y1="781.0" x2="239.0" y2="784.5" stroke="#767373" stroke-width="2.8" stroke-linecap="round"/>
<polygon points="189,815 240,826 240,864 189,852" fill="#a9d79a" opacity="0.35" filter="url(#blur3)"/>
<g clip-path="url(#clipC2in)" fill="none" stroke-linecap="round" stroke-linejoin="round"><path d="M264.4,840.2 L264.9,838.2 L265.4,836.1 L265.7,834.1 L266.0,832.2 L266.3,830.2 L266.4,828.4 L266.5,826.6 L266.5,824.9 L266.5,823.3 L266.3,821.8 L266.2,820.4 L265.9,819.2 L265.6,818.1 L265.3,817.1 L264.9,816.3 L264.4,815.7 L263.9,815.2 L263.4,814.9 L262.8,814.7" stroke="#4d4930" stroke-width="7.5"/><path d="M264.4,840.2 L264.9,838.2 L265.4,836.1 L265.7,834.1 L266.0,832.2 L266.3,830.2 L266.4,828.4 L266.5,826.6 L266.5,824.9 L266.5,823.3 L266.3,821.8 L266.2,820.4 L265.9,819.2 L265.6,818.1 L265.3,817.1 L264.9,816.3 L264.4,815.7 L263.9,815.2 L263.4,814.9 L262.8,814.7" stroke="#6d6848" stroke-width="4.9"/><path d="M264.4,840.2 L264.9,838.2 L265.4,836.1 L265.7,834.1 L266.0,832.2 L266.3,830.2 L266.4,828.4 L266.5,826.6 L266.5,824.9 L266.5,823.3 L266.3,821.8 L266.2,820.4 L265.9,819.2 L265.6,818.1 L265.3,817.1 L264.9,816.3 L264.4,815.7 L263.9,815.2 L263.4,814.9 L262.8,814.7" stroke="#8a845f" stroke-width="1.3" transform="translate(-1.0,-0.6)" opacity="0.85"/><path d="M265.4,867.7 L266.4,867.7 L267.5,867.7 L268.6,867.4 L269.7,867.0 L270.7,866.5 L271.8,865.8 L272.9,864.9 L274.0,863.9 L275.0,862.8 L276.0,861.5 L277.0,860.1 L278.0,858.6 L278.9,857.0 L279.8,855.3 L280.6,853.6 L281.4,851.7 L282.1,849.9 L282.7,847.9 L283.3,846.0 L283.9,844.0 L284.3,842.0 L284.7,840.1 L285.1,838.1 L285.3,836.2 L285.5,834.4 L285.7,832.6 L285.7,830.9 L285.7,829.2 L285.6,827.7 L285.5,826.3 L285.3,825.0 L285.1,823.8 L284.8,822.7 L284.4,821.8 L284.0,821.0 L283.6,820.4 L283.1,820.0 L282.6,819.7 L282.0,819.5" stroke="#4d4930" stroke-width="7.5"/><path d="M265.4,867.7 L266.4,867.7 L267.5,867.7 L268.6,867.4 L269.7,867.0 L270.7,866.5 L271.8,865.8 L272.9,864.9 L274.0,863.9 L275.0,862.8 L276.0,861.5 L277.0,860.1 L278.0,858.6 L278.9,857.0 L279.8,855.3 L280.6,853.6 L281.4,851.7 L282.1,849.9 L282.7,847.9 L283.3,846.0 L283.9,844.0 L284.3,842.0 L284.7,840.1 L285.1,838.1 L285.3,836.2 L285.5,834.4 L285.7,832.6 L285.7,830.9 L285.7,829.2 L285.6,827.7 L285.5,826.3 L285.3,825.0 L285.1,823.8 L284.8,822.7 L284.4,821.8 L284.0,821.0 L283.6,820.4 L283.1,820.0 L282.6,819.7 L282.0,819.5" stroke="#6d6848" stroke-width="4.9"/><path d="M265.4,867.7 L266.4,867.7 L267.5,867.7 L268.6,867.4 L269.7,867.0 L270.7,866.5 L271.8,865.8 L272.9,864.9 L274.0,863.9 L275.0,862.8 L276.0,861.5 L277.0,860.1 L278.0,858.6 L278.9,857.0 L279.8,855.3 L280.6,853.6 L281.4,851.7 L282.1,849.9 L282.7,847.9 L283.3,846.0 L283.9,844.0 L284.3,842.0 L284.7,840.1 L285.1,838.1 L285.3,836.2 L285.5,834.4 L285.7,832.6 L285.7,830.9 L285.7,829.2 L285.6,827.7 L285.5,826.3 L285.3,825.0 L285.1,823.8 L284.8,822.7 L284.4,821.8 L284.0,821.0 L283.6,820.4 L283.1,820.0 L282.6,819.7 L282.0,819.5" stroke="#8a845f" stroke-width="1.3" transform="translate(-1.0,-0.6)" opacity="0.85"/><path d="M284.6,872.5 L285.6,872.5 L286.7,872.5 L287.8,872.2 L288.9,871.8 L289.9,871.3 L291.0,870.6 L292.1,869.7 L293.2,868.7 L294.2,867.6 L295.2,866.3 L296.2,864.9 L297.2,863.4 L298.1,861.8 L299.0,860.1 L299.8,858.4 L300.6,856.5 L301.3,854.7 L301.9,852.7 L302.5,850.8 L303.1,848.8 L303.5,846.8 L303.9,844.9 L304.3,842.9 L304.5,841.0 L304.7,839.2 L304.9,837.4 L304.9,835.7 L304.9,834.0 L304.8,832.5 L304.7,831.1 L304.5,829.8 L304.3,828.6 L304.0,827.5 L303.6,826.6 L303.2,825.8 L302.8,825.2 L302.3,824.8 L301.8,824.5 L301.2,824.3" stroke="#4d4930" stroke-width="7.5"/><path d="M284.6,872.5 L285.6,872.5 L286.7,872.5 L287.8,872.2 L288.9,871.8 L289.9,871.3 L291.0,870.6 L292.1,869.7 L293.2,868.7 L294.2,867.6 L295.2,866.3 L296.2,864.9 L297.2,863.4 L298.1,861.8 L299.0,860.1 L299.8,858.4 L300.6,856.5 L301.3,854.7 L301.9,852.7 L302.5,850.8 L303.1,848.8 L303.5,846.8 L303.9,844.9 L304.3,842.9 L304.5,841.0 L304.7,839.2 L304.9,837.4 L304.9,835.7 L304.9,834.0 L304.8,832.5 L304.7,831.1 L304.5,829.8 L304.3,828.6 L304.0,827.5 L303.6,826.6 L303.2,825.8 L302.8,825.2 L302.3,824.8 L301.8,824.5 L301.2,824.3" stroke="#6d6848" stroke-width="4.9"/><path d="M284.6,872.5 L285.6,872.5 L286.7,872.5 L287.8,872.2 L288.9,871.8 L289.9,871.3 L291.0,870.6 L292.1,869.7 L293.2,868.7 L294.2,867.6 L295.2,866.3 L296.2,864.9 L297.2,863.4 L298.1,861.8 L299.0,860.1 L299.8,858.4 L300.6,856.5 L301.3,854.7 L301.9,852.7 L302.5,850.8 L303.1,848.8 L303.5,846.8 L303.9,844.9 L304.3,842.9 L304.5,841.0 L304.7,839.2 L304.9,837.4 L304.9,835.7 L304.9,834.0 L304.8,832.5 L304.7,831.1 L304.5,829.8 L304.3,828.6 L304.0,827.5 L303.6,826.6 L303.2,825.8 L302.8,825.2 L302.3,824.8 L301.8,824.5 L301.2,824.3" stroke="#8a845f" stroke-width="1.3" transform="translate(-1.0,-0.6)" opacity="0.85"/><path d="M303.8,877.3 L304.8,877.3 L305.9,877.3 L307.0,877.0 L308.1,876.6 L309.1,876.1 L310.2,875.4 L311.3,874.5 L312.4,873.5 L313.4,872.4 L314.4,871.1 L315.4,869.7 L316.4,868.2 L317.3,866.6 L318.2,864.9 L319.0,863.2 L319.8,861.3 L320.5,859.5 L321.1,857.5 L321.7,855.6 L322.3,853.6 L322.7,851.6 L323.1,849.7 L323.5,847.7 L323.7,845.8 L323.9,844.0 L324.1,842.2 L324.1,840.5 L324.1,838.8 L324.0,837.3 L323.9,835.9 L323.7,834.6 L323.5,833.4 L323.2,832.3 L322.8,831.4 L322.4,830.6 L322.0,830.0 L321.5,829.6 L321.0,829.3 L320.4,829.1" stroke="#4d4930" stroke-width="7.5"/><path d="M303.8,877.3 L304.8,877.3 L305.9,877.3 L307.0,877.0 L308.1,876.6 L309.1,876.1 L310.2,875.4 L311.3,874.5 L312.4,873.5 L313.4,872.4 L314.4,871.1 L315.4,869.7 L316.4,868.2 L317.3,866.6 L318.2,864.9 L319.0,863.2 L319.8,861.3 L320.5,859.5 L321.1,857.5 L321.7,855.6 L322.3,853.6 L322.7,851.6 L323.1,849.7 L323.5,847.7 L323.7,845.8 L323.9,844.0 L324.1,842.2 L324.1,840.5 L324.1,838.8 L324.0,837.3 L323.9,835.9 L323.7,834.6 L323.5,833.4 L323.2,832.3 L322.8,831.4 L322.4,830.6 L322.0,830.0 L321.5,829.6 L321.0,829.3 L320.4,829.1" stroke="#6d6848" stroke-width="4.9"/><path d="M303.8,877.3 L304.8,877.3 L305.9,877.3 L307.0,877.0 L308.1,876.6 L309.1,876.1 L310.2,875.4 L311.3,874.5 L312.4,873.5 L313.4,872.4 L314.4,871.1 L315.4,869.7 L316.4,868.2 L317.3,866.6 L318.2,864.9 L319.0,863.2 L319.8,861.3 L320.5,859.5 L321.1,857.5 L321.7,855.6 L322.3,853.6 L322.7,851.6 L323.1,849.7 L323.5,847.7 L323.7,845.8 L323.9,844.0 L324.1,842.2 L324.1,840.5 L324.1,838.8 L324.0,837.3 L323.9,835.9 L323.7,834.6 L323.5,833.4 L323.2,832.3 L322.8,831.4 L322.4,830.6 L322.0,830.0 L321.5,829.6 L321.0,829.3 L320.4,829.1" stroke="#8a845f" stroke-width="1.3" transform="translate(-1.0,-0.6)" opacity="0.85"/><path d="M323.0,882.1 L324.0,882.1 L325.1,882.1 L326.2,881.8 L327.3,881.4 L328.3,880.9 L329.4,880.2 L330.5,879.3 L331.6,878.3 L332.6,877.2 L333.6,875.9 L334.6,874.5 L335.6,873.0 L336.5,871.4 L337.4,869.7 L338.2,868.0 L339.0,866.1 L339.7,864.3 L340.3,862.3 L340.9,860.4 L341.5,858.4 L341.9,856.4 L342.3,854.5 L342.7,852.5 L342.9,850.6 L343.1,848.8 L343.3,847.0 L343.3,845.3 L343.3,843.6 L343.2,842.1 L343.1,840.7 L342.9,839.4 L342.7,838.2 L342.4,837.1 L342.0,836.2 L341.6,835.4 L341.2,834.8 L340.7,834.4 L340.2,834.1 L339.6,833.9" stroke="#4d4930" stroke-width="7.5"/><path d="M323.0,882.1 L324.0,882.1 L325.1,882.1 L326.2,881.8 L327.3,881.4 L328.3,880.9 L329.4,880.2 L330.5,879.3 L331.6,878.3 L332.6,877.2 L333.6,875.9 L334.6,874.5 L335.6,873.0 L336.5,871.4 L337.4,869.7 L338.2,868.0 L339.0,866.1 L339.7,864.3 L340.3,862.3 L340.9,860.4 L341.5,858.4 L341.9,856.4 L342.3,854.5 L342.7,852.5 L342.9,850.6 L343.1,848.8 L343.3,847.0 L343.3,845.3 L343.3,843.6 L343.2,842.1 L343.1,840.7 L342.9,839.4 L342.7,838.2 L342.4,837.1 L342.0,836.2 L341.6,835.4 L341.2,834.8 L340.7,834.4 L340.2,834.1 L339.6,833.9" stroke="#6d6848" stroke-width="4.9"/><path d="M323.0,882.1 L324.0,882.1 L325.1,882.1 L326.2,881.8 L327.3,881.4 L328.3,880.9 L329.4,880.2 L330.5,879.3 L331.6,878.3 L332.6,877.2 L333.6,875.9 L334.6,874.5 L335.6,873.0 L336.5,871.4 L337.4,869.7 L338.2,868.0 L339.0,866.1 L339.7,864.3 L340.3,862.3 L340.9,860.4 L341.5,858.4 L341.9,856.4 L342.3,854.5 L342.7,852.5 L342.9,850.6 L343.1,848.8 L343.3,847.0 L343.3,845.3 L343.3,843.6 L343.2,842.1 L343.1,840.7 L342.9,839.4 L342.7,838.2 L342.4,837.1 L342.0,836.2 L341.6,835.4 L341.2,834.8 L340.7,834.4 L340.2,834.1 L339.6,833.9" stroke="#8a845f" stroke-width="1.3" transform="translate(-1.0,-0.6)" opacity="0.85"/><path d="M342.2,886.9 L343.2,886.9 L344.3,886.9 L345.4,886.6 L346.5,886.2 L347.5,885.7 L348.6,885.0 L349.7,884.1 L350.8,883.1 L351.8,882.0 L352.8,880.7 L353.8,879.3 L354.8,877.8 L355.7,876.2 L356.6,874.5 L357.4,872.8 L358.2,870.9 L358.9,869.1 L359.5,867.1 L360.1,865.2 L360.7,863.2 L361.1,861.2 L361.5,859.3 L361.9,857.3 L362.1,855.4 L362.3,853.6 L362.5,851.8 L362.5,850.1 L362.5,848.4 L362.4,846.9 L362.3,845.5 L362.1,844.2 L361.9,843.0 L361.6,841.9 L361.2,841.0 L360.8,840.2 L360.4,839.6 L359.9,839.2 L359.4,838.9 L358.8,838.7" stroke="#4d4930" stroke-width="7.5"/><path d="M342.2,886.9 L343.2,886.9 L344.3,886.9 L345.4,886.6 L346.5,886.2 L347.5,885.7 L348.6,885.0 L349.7,884.1 L350.8,883.1 L351.8,882.0 L352.8,880.7 L353.8,879.3 L354.8,877.8 L355.7,876.2 L356.6,874.5 L357.4,872.8 L358.2,870.9 L358.9,869.1 L359.5,867.1 L360.1,865.2 L360.7,863.2 L361.1,861.2 L361.5,859.3 L361.9,857.3 L362.1,855.4 L362.3,853.6 L362.5,851.8 L362.5,850.1 L362.5,848.4 L362.4,846.9 L362.3,845.5 L362.1,844.2 L361.9,843.0 L361.6,841.9 L361.2,841.0 L360.8,840.2 L360.4,839.6 L359.9,839.2 L359.4,838.9 L358.8,838.7" stroke="#6d6848" stroke-width="4.9"/><path d="M342.2,886.9 L343.2,886.9 L344.3,886.9 L345.4,886.6 L346.5,886.2 L347.5,885.7 L348.6,885.0 L349.7,884.1 L350.8,883.1 L351.8,882.0 L352.8,880.7 L353.8,879.3 L354.8,877.8 L355.7,876.2 L356.6,874.5 L357.4,872.8 L358.2,870.9 L358.9,869.1 L359.5,867.1 L360.1,865.2 L360.7,863.2 L361.1,861.2 L361.5,859.3 L361.9,857.3 L362.1,855.4 L362.3,853.6 L362.5,851.8 L362.5,850.1 L362.5,848.4 L362.4,846.9 L362.3,845.5 L362.1,844.2 L361.9,843.0 L361.6,841.9 L361.2,841.0 L360.8,840.2 L360.4,839.6 L359.9,839.2 L359.4,838.9 L358.8,838.7" stroke="#8a845f" stroke-width="1.3" transform="translate(-1.0,-0.6)" opacity="0.85"/><path d="M361.4,891.7 L362.4,891.7 L363.5,891.7 L364.6,891.4 L365.7,891.0 L366.9,890.4 L368.0,889.7 L369.1,888.8 L370.2,887.7 L371.2,886.5 L372.3,885.2 L373.3,883.8 L374.2,882.2 L375.1,880.6 L376.0,878.8 L376.8,877.0 L377.6,875.1 L378.3,873.2 L379.0,871.2 L379.6,869.2 L380.1,867.2 L380.5,865.1" stroke="#4d4930" stroke-width="7.5"/><path d="M361.4,891.7 L362.4,891.7 L363.5,891.7 L364.6,891.4 L365.7,891.0 L366.9,890.4 L368.0,889.7 L369.1,888.8 L370.2,887.7 L371.2,886.5 L372.3,885.2 L373.3,883.8 L374.2,882.2 L375.1,880.6 L376.0,878.8 L376.8,877.0 L377.6,875.1 L378.3,873.2 L379.0,871.2 L379.6,869.2 L380.1,867.2 L380.5,865.1" stroke="#6d6848" stroke-width="4.9"/><path d="M361.4,891.7 L362.4,891.7 L363.5,891.7 L364.6,891.4 L365.7,891.0 L366.9,890.4 L368.0,889.7 L369.1,888.8 L370.2,887.7 L371.2,886.5 L372.3,885.2 L373.3,883.8 L374.2,882.2 L375.1,880.6 L376.0,878.8 L376.8,877.0 L377.6,875.1 L378.3,873.2 L379.0,871.2 L379.6,869.2 L380.1,867.2 L380.5,865.1" stroke="#8a845f" stroke-width="1.3" transform="translate(-1.0,-0.6)" opacity="0.85"/></g>
<g clip-path="url(#clipC2out)" fill="none" stroke-linecap="round" stroke-linejoin="round"><path d="M264.4,840.2 L264.9,838.2 L265.4,836.1 L265.7,834.1 L266.0,832.2 L266.3,830.2 L266.4,828.4 L266.5,826.6 L266.5,824.9 L266.5,823.3 L266.3,821.8 L266.2,820.4 L265.9,819.2 L265.6,818.1 L265.3,817.1 L264.9,816.3 L264.4,815.7 L263.9,815.2 L263.4,814.9 L262.8,814.7" stroke="#6e5c14" stroke-width="7.5"/><path d="M264.4,840.2 L264.9,838.2 L265.4,836.1 L265.7,834.1 L266.0,832.2 L266.3,830.2 L266.4,828.4 L266.5,826.6 L266.5,824.9 L266.5,823.3 L266.3,821.8 L266.2,820.4 L265.9,819.2 L265.6,818.1 L265.3,817.1 L264.9,816.3 L264.4,815.7 L263.9,815.2 L263.4,814.9 L262.8,814.7" stroke="#a08a2c" stroke-width="4.9"/><path d="M264.4,840.2 L264.9,838.2 L265.4,836.1 L265.7,834.1 L266.0,832.2 L266.3,830.2 L266.4,828.4 L266.5,826.6 L266.5,824.9 L266.5,823.3 L266.3,821.8 L266.2,820.4 L265.9,819.2 L265.6,818.1 L265.3,817.1 L264.9,816.3 L264.4,815.7 L263.9,815.2 L263.4,814.9 L262.8,814.7" stroke="#bba445" stroke-width="1.3" transform="translate(-1.0,-0.6)" opacity="0.85"/><path d="M265.4,867.7 L266.4,867.7 L267.5,867.7 L268.6,867.4 L269.7,867.0 L270.7,866.5 L271.8,865.8 L272.9,864.9 L274.0,863.9 L275.0,862.8 L276.0,861.5 L277.0,860.1 L278.0,858.6 L278.9,857.0 L279.8,855.3 L280.6,853.6 L281.4,851.7 L282.1,849.9 L282.7,847.9 L283.3,846.0 L283.9,844.0 L284.3,842.0 L284.7,840.1 L285.1,838.1 L285.3,836.2 L285.5,834.4 L285.7,832.6 L285.7,830.9 L285.7,829.2 L285.6,827.7 L285.5,826.3 L285.3,825.0 L285.1,823.8 L284.8,822.7 L284.4,821.8 L284.0,821.0 L283.6,820.4 L283.1,820.0 L282.6,819.7 L282.0,819.5" stroke="#6e5c14" stroke-width="7.5"/><path d="M265.4,867.7 L266.4,867.7 L267.5,867.7 L268.6,867.4 L269.7,867.0 L270.7,866.5 L271.8,865.8 L272.9,864.9 L274.0,863.9 L275.0,862.8 L276.0,861.5 L277.0,860.1 L278.0,858.6 L278.9,857.0 L279.8,855.3 L280.6,853.6 L281.4,851.7 L282.1,849.9 L282.7,847.9 L283.3,846.0 L283.9,844.0 L284.3,842.0 L284.7,840.1 L285.1,838.1 L285.3,836.2 L285.5,834.4 L285.7,832.6 L285.7,830.9 L285.7,829.2 L285.6,827.7 L285.5,826.3 L285.3,825.0 L285.1,823.8 L284.8,822.7 L284.4,821.8 L284.0,821.0 L283.6,820.4 L283.1,820.0 L282.6,819.7 L282.0,819.5" stroke="#a08a2c" stroke-width="4.9"/><path d="M265.4,867.7 L266.4,867.7 L267.5,867.7 L268.6,867.4 L269.7,867.0 L270.7,866.5 L271.8,865.8 L272.9,864.9 L274.0,863.9 L275.0,862.8 L276.0,861.5 L277.0,860.1 L278.0,858.6 L278.9,857.0 L279.8,855.3 L280.6,853.6 L281.4,851.7 L282.1,849.9 L282.7,847.9 L283.3,846.0 L283.9,844.0 L284.3,842.0 L284.7,840.1 L285.1,838.1 L285.3,836.2 L285.5,834.4 L285.7,832.6 L285.7,830.9 L285.7,829.2 L285.6,827.7 L285.5,826.3 L285.3,825.0 L285.1,823.8 L284.8,822.7 L284.4,821.8 L284.0,821.0 L283.6,820.4 L283.1,820.0 L282.6,819.7 L282.0,819.5" stroke="#bba445" stroke-width="1.3" transform="translate(-1.0,-0.6)" opacity="0.85"/><path d="M284.6,872.5 L285.6,872.5 L286.7,872.5 L287.8,872.2 L288.9,871.8 L289.9,871.3 L291.0,870.6 L292.1,869.7 L293.2,868.7 L294.2,867.6 L295.2,866.3 L296.2,864.9 L297.2,863.4 L298.1,861.8 L299.0,860.1 L299.8,858.4 L300.6,856.5 L301.3,854.7 L301.9,852.7 L302.5,850.8 L303.1,848.8 L303.5,846.8 L303.9,844.9 L304.3,842.9 L304.5,841.0 L304.7,839.2 L304.9,837.4 L304.9,835.7 L304.9,834.0 L304.8,832.5 L304.7,831.1 L304.5,829.8 L304.3,828.6 L304.0,827.5 L303.6,826.6 L303.2,825.8 L302.8,825.2 L302.3,824.8 L301.8,824.5 L301.2,824.3" stroke="#6e5c14" stroke-width="7.5"/><path d="M284.6,872.5 L285.6,872.5 L286.7,872.5 L287.8,872.2 L288.9,871.8 L289.9,871.3 L291.0,870.6 L292.1,869.7 L293.2,868.7 L294.2,867.6 L295.2,866.3 L296.2,864.9 L297.2,863.4 L298.1,861.8 L299.0,860.1 L299.8,858.4 L300.6,856.5 L301.3,854.7 L301.9,852.7 L302.5,850.8 L303.1,848.8 L303.5,846.8 L303.9,844.9 L304.3,842.9 L304.5,841.0 L304.7,839.2 L304.9,837.4 L304.9,835.7 L304.9,834.0 L304.8,832.5 L304.7,831.1 L304.5,829.8 L304.3,828.6 L304.0,827.5 L303.6,826.6 L303.2,825.8 L302.8,825.2 L302.3,824.8 L301.8,824.5 L301.2,824.3" stroke="#a08a2c" stroke-width="4.9"/><path d="M284.6,872.5 L285.6,872.5 L286.7,872.5 L287.8,872.2 L288.9,871.8 L289.9,871.3 L291.0,870.6 L292.1,869.7 L293.2,868.7 L294.2,867.6 L295.2,866.3 L296.2,864.9 L297.2,863.4 L298.1,861.8 L299.0,860.1 L299.8,858.4 L300.6,856.5 L301.3,854.7 L301.9,852.7 L302.5,850.8 L303.1,848.8 L303.5,846.8 L303.9,844.9 L304.3,842.9 L304.5,841.0 L304.7,839.2 L304.9,837.4 L304.9,835.7 L304.9,834.0 L304.8,832.5 L304.7,831.1 L304.5,829.8 L304.3,828.6 L304.0,827.5 L303.6,826.6 L303.2,825.8 L302.8,825.2 L302.3,824.8 L301.8,824.5 L301.2,824.3" stroke="#bba445" stroke-width="1.3" transform="translate(-1.0,-0.6)" opacity="0.85"/><path d="M303.8,877.3 L304.8,877.3 L305.9,877.3 L307.0,877.0 L308.1,876.6 L309.1,876.1 L310.2,875.4 L311.3,874.5 L312.4,873.5 L313.4,872.4 L314.4,871.1 L315.4,869.7 L316.4,868.2 L317.3,866.6 L318.2,864.9 L319.0,863.2 L319.8,861.3 L320.5,859.5 L321.1,857.5 L321.7,855.6 L322.3,853.6 L322.7,851.6 L323.1,849.7 L323.5,847.7 L323.7,845.8 L323.9,844.0 L324.1,842.2 L324.1,840.5 L324.1,838.8 L324.0,837.3 L323.9,835.9 L323.7,834.6 L323.5,833.4 L323.2,832.3 L322.8,831.4 L322.4,830.6 L322.0,830.0 L321.5,829.6 L321.0,829.3 L320.4,829.1" stroke="#6e5c14" stroke-width="7.5"/><path d="M303.8,877.3 L304.8,877.3 L305.9,877.3 L307.0,877.0 L308.1,876.6 L309.1,876.1 L310.2,875.4 L311.3,874.5 L312.4,873.5 L313.4,872.4 L314.4,871.1 L315.4,869.7 L316.4,868.2 L317.3,866.6 L318.2,864.9 L319.0,863.2 L319.8,861.3 L320.5,859.5 L321.1,857.5 L321.7,855.6 L322.3,853.6 L322.7,851.6 L323.1,849.7 L323.5,847.7 L323.7,845.8 L323.9,844.0 L324.1,842.2 L324.1,840.5 L324.1,838.8 L324.0,837.3 L323.9,835.9 L323.7,834.6 L323.5,833.4 L323.2,832.3 L322.8,831.4 L322.4,830.6 L322.0,830.0 L321.5,829.6 L321.0,829.3 L320.4,829.1" stroke="#a08a2c" stroke-width="4.9"/><path d="M303.8,877.3 L304.8,877.3 L305.9,877.3 L307.0,877.0 L308.1,876.6 L309.1,876.1 L310.2,875.4 L311.3,874.5 L312.4,873.5 L313.4,872.4 L314.4,871.1 L315.4,869.7 L316.4,868.2 L317.3,866.6 L318.2,864.9 L319.0,863.2 L319.8,861.3 L320.5,859.5 L321.1,857.5 L321.7,855.6 L322.3,853.6 L322.7,851.6 L323.1,849.7 L323.5,847.7 L323.7,845.8 L323.9,844.0 L324.1,842.2 L324.1,840.5 L324.1,838.8 L324.0,837.3 L323.9,835.9 L323.7,834.6 L323.5,833.4 L323.2,832.3 L322.8,831.4 L322.4,830.6 L322.0,830.0 L321.5,829.6 L321.0,829.3 L320.4,829.1" stroke="#bba445" stroke-width="1.3" transform="translate(-1.0,-0.6)" opacity="0.85"/><path d="M323.0,882.1 L324.0,882.1 L325.1,882.1 L326.2,881.8 L327.3,881.4 L328.3,880.9 L329.4,880.2 L330.5,879.3 L331.6,878.3 L332.6,877.2 L333.6,875.9 L334.6,874.5 L335.6,873.0 L336.5,871.4 L337.4,869.7 L338.2,868.0 L339.0,866.1 L339.7,864.3 L340.3,862.3 L340.9,860.4 L341.5,858.4 L341.9,856.4 L342.3,854.5 L342.7,852.5 L342.9,850.6 L343.1,848.8 L343.3,847.0 L343.3,845.3 L343.3,843.6 L343.2,842.1 L343.1,840.7 L342.9,839.4 L342.7,838.2 L342.4,837.1 L342.0,836.2 L341.6,835.4 L341.2,834.8 L340.7,834.4 L340.2,834.1 L339.6,833.9" stroke="#6e5c14" stroke-width="7.5"/><path d="M323.0,882.1 L324.0,882.1 L325.1,882.1 L326.2,881.8 L327.3,881.4 L328.3,880.9 L329.4,880.2 L330.5,879.3 L331.6,878.3 L332.6,877.2 L333.6,875.9 L334.6,874.5 L335.6,873.0 L336.5,871.4 L337.4,869.7 L338.2,868.0 L339.0,866.1 L339.7,864.3 L340.3,862.3 L340.9,860.4 L341.5,858.4 L341.9,856.4 L342.3,854.5 L342.7,852.5 L342.9,850.6 L343.1,848.8 L343.3,847.0 L343.3,845.3 L343.3,843.6 L343.2,842.1 L343.1,840.7 L342.9,839.4 L342.7,838.2 L342.4,837.1 L342.0,836.2 L341.6,835.4 L341.2,834.8 L340.7,834.4 L340.2,834.1 L339.6,833.9" stroke="#a08a2c" stroke-width="4.9"/><path d="M323.0,882.1 L324.0,882.1 L325.1,882.1 L326.2,881.8 L327.3,881.4 L328.3,880.9 L329.4,880.2 L330.5,879.3 L331.6,878.3 L332.6,877.2 L333.6,875.9 L334.6,874.5 L335.6,873.0 L336.5,871.4 L337.4,869.7 L338.2,868.0 L339.0,866.1 L339.7,864.3 L340.3,862.3 L340.9,860.4 L341.5,858.4 L341.9,856.4 L342.3,854.5 L342.7,852.5 L342.9,850.6 L343.1,848.8 L343.3,847.0 L343.3,845.3 L343.3,843.6 L343.2,842.1 L343.1,840.7 L342.9,839.4 L342.7,838.2 L342.4,837.1 L342.0,836.2 L341.6,835.4 L341.2,834.8 L340.7,834.4 L340.2,834.1 L339.6,833.9" stroke="#bba445" stroke-width="1.3" transform="translate(-1.0,-0.6)" opacity="0.85"/><path d="M342.2,886.9 L343.2,886.9 L344.3,886.9 L345.4,886.6 L346.5,886.2 L347.5,885.7 L348.6,885.0 L349.7,884.1 L350.8,883.1 L351.8,882.0 L352.8,880.7 L353.8,879.3 L354.8,877.8 L355.7,876.2 L356.6,874.5 L357.4,872.8 L358.2,870.9 L358.9,869.1 L359.5,867.1 L360.1,865.2 L360.7,863.2 L361.1,861.2 L361.5,859.3 L361.9,857.3 L362.1,855.4 L362.3,853.6 L362.5,851.8 L362.5,850.1 L362.5,848.4 L362.4,846.9 L362.3,845.5 L362.1,844.2 L361.9,843.0 L361.6,841.9 L361.2,841.0 L360.8,840.2 L360.4,839.6 L359.9,839.2 L359.4,838.9 L358.8,838.7" stroke="#6e5c14" stroke-width="7.5"/><path d="M342.2,886.9 L343.2,886.9 L344.3,886.9 L345.4,886.6 L346.5,886.2 L347.5,885.7 L348.6,885.0 L349.7,884.1 L350.8,883.1 L351.8,882.0 L352.8,880.7 L353.8,879.3 L354.8,877.8 L355.7,876.2 L356.6,874.5 L357.4,872.8 L358.2,870.9 L358.9,869.1 L359.5,867.1 L360.1,865.2 L360.7,863.2 L361.1,861.2 L361.5,859.3 L361.9,857.3 L362.1,855.4 L362.3,853.6 L362.5,851.8 L362.5,850.1 L362.5,848.4 L362.4,846.9 L362.3,845.5 L362.1,844.2 L361.9,843.0 L361.6,841.9 L361.2,841.0 L360.8,840.2 L360.4,839.6 L359.9,839.2 L359.4,838.9 L358.8,838.7" stroke="#a08a2c" stroke-width="4.9"/><path d="M342.2,886.9 L343.2,886.9 L344.3,886.9 L345.4,886.6 L346.5,886.2 L347.5,885.7 L348.6,885.0 L349.7,884.1 L350.8,883.1 L351.8,882.0 L352.8,880.7 L353.8,879.3 L354.8,877.8 L355.7,876.2 L356.6,874.5 L357.4,872.8 L358.2,870.9 L358.9,869.1 L359.5,867.1 L360.1,865.2 L360.7,863.2 L361.1,861.2 L361.5,859.3 L361.9,857.3 L362.1,855.4 L362.3,853.6 L362.5,851.8 L362.5,850.1 L362.5,848.4 L362.4,846.9 L362.3,845.5 L362.1,844.2 L361.9,843.0 L361.6,841.9 L361.2,841.0 L360.8,840.2 L360.4,839.6 L359.9,839.2 L359.4,838.9 L358.8,838.7" stroke="#bba445" stroke-width="1.3" transform="translate(-1.0,-0.6)" opacity="0.85"/><path d="M361.4,891.7 L362.4,891.7 L363.5,891.7 L364.6,891.4 L365.7,891.0 L366.9,890.4 L368.0,889.7 L369.1,888.8 L370.2,887.7 L371.2,886.5 L372.3,885.2 L373.3,883.8 L374.2,882.2 L375.1,880.6 L376.0,878.8 L376.8,877.0 L377.6,875.1 L378.3,873.2 L379.0,871.2 L379.6,869.2 L380.1,867.2 L380.5,865.1" stroke="#6e5c14" stroke-width="7.5"/><path d="M361.4,891.7 L362.4,891.7 L363.5,891.7 L364.6,891.4 L365.7,891.0 L366.9,890.4 L368.0,889.7 L369.1,888.8 L370.2,887.7 L371.2,886.5 L372.3,885.2 L373.3,883.8 L374.2,882.2 L375.1,880.6 L376.0,878.8 L376.8,877.0 L377.6,875.1 L378.3,873.2 L379.0,871.2 L379.6,869.2 L380.1,867.2 L380.5,865.1" stroke="#a08a2c" stroke-width="4.9"/><path d="M361.4,891.7 L362.4,891.7 L363.5,891.7 L364.6,891.4 L365.7,891.0 L366.9,890.4 L368.0,889.7 L369.1,888.8 L370.2,887.7 L371.2,886.5 L372.3,885.2 L373.3,883.8 L374.2,882.2 L375.1,880.6 L376.0,878.8 L376.8,877.0 L377.6,875.1 L378.3,873.2 L379.0,871.2 L379.6,869.2 L380.1,867.2 L380.5,865.1" stroke="#bba445" stroke-width="1.3" transform="translate(-1.0,-0.6)" opacity="0.85"/></g>
<g clip-path="url(#clipC2in)" fill="none" stroke-linecap="round" stroke-linejoin="round"><path d="M262.8,814.7 L262.3,814.8 L261.7,815.0 L261.1,815.3 L260.5,815.9 L259.9,816.5 L259.3,817.4 L258.7,818.3 L258.2,819.5 L257.6,820.7 L257.1,822.1 L256.6,823.6 L256.1,825.2 L255.7,827.0 L255.3,828.8 L255.0,830.7 L254.7,832.6 L254.5,834.6 L254.3,836.7 L254.2,838.8 L254.2,840.9 L254.2,843.0 L254.3,845.0 L254.5,847.1 L254.7,849.1 L255.0,851.1 L255.3,853.0 L255.8,854.9 L256.3,856.6 L256.8,858.3 L257.5,859.8 L258.1,861.3 L258.9,862.6 L259.7,863.7 L260.5,864.8 L261.4,865.7 L262.3,866.4 L263.3,867.0 L264.3,867.4 L265.4,867.7" stroke="#5c573a" stroke-width="7.5"/><path d="M262.8,814.7 L262.3,814.8 L261.7,815.0 L261.1,815.3 L260.5,815.9 L259.9,816.5 L259.3,817.4 L258.7,818.3 L258.2,819.5 L257.6,820.7 L257.1,822.1 L256.6,823.6 L256.1,825.2 L255.7,827.0 L255.3,828.8 L255.0,830.7 L254.7,832.6 L254.5,834.6 L254.3,836.7 L254.2,838.8 L254.2,840.9 L254.2,843.0 L254.3,845.0 L254.5,847.1 L254.7,849.1 L255.0,851.1 L255.3,853.0 L255.8,854.9 L256.3,856.6 L256.8,858.3 L257.5,859.8 L258.1,861.3 L258.9,862.6 L259.7,863.7 L260.5,864.8 L261.4,865.7 L262.3,866.4 L263.3,867.0 L264.3,867.4 L265.4,867.7" stroke="#8a845f" stroke-width="4.9"/><path d="M262.8,814.7 L262.3,814.8 L261.7,815.0 L261.1,815.3 L260.5,815.9 L259.9,816.5 L259.3,817.4 L258.7,818.3 L258.2,819.5 L257.6,820.7 L257.1,822.1 L256.6,823.6 L256.1,825.2 L255.7,827.0 L255.3,828.8 L255.0,830.7 L254.7,832.6 L254.5,834.6 L254.3,836.7 L254.2,838.8 L254.2,840.9 L254.2,843.0 L254.3,845.0 L254.5,847.1 L254.7,849.1 L255.0,851.1 L255.3,853.0 L255.8,854.9 L256.3,856.6 L256.8,858.3 L257.5,859.8 L258.1,861.3 L258.9,862.6 L259.7,863.7 L260.5,864.8 L261.4,865.7 L262.3,866.4 L263.3,867.0 L264.3,867.4 L265.4,867.7" stroke="#aca67f" stroke-width="1.3" transform="translate(-1.0,-0.6)" opacity="0.85"/><path d="M282.0,819.5 L281.5,819.6 L280.9,819.8 L280.3,820.1 L279.7,820.7 L279.1,821.3 L278.5,822.2 L277.9,823.1 L277.4,824.3 L276.8,825.5 L276.3,826.9 L275.8,828.4 L275.3,830.0 L274.9,831.8 L274.5,833.6 L274.2,835.5 L273.9,837.4 L273.7,839.4 L273.5,841.5 L273.4,843.6 L273.4,845.7 L273.4,847.8 L273.5,849.8 L273.7,851.9 L273.9,853.9 L274.2,855.9 L274.5,857.8 L275.0,859.7 L275.5,861.4 L276.0,863.1 L276.7,864.6 L277.3,866.1 L278.1,867.4 L278.9,868.5 L279.7,869.6 L280.6,870.5 L281.5,871.2 L282.5,871.8 L283.5,872.2 L284.6,872.5" stroke="#5c573a" stroke-width="7.5"/><path d="M282.0,819.5 L281.5,819.6 L280.9,819.8 L280.3,820.1 L279.7,820.7 L279.1,821.3 L278.5,822.2 L277.9,823.1 L277.4,824.3 L276.8,825.5 L276.3,826.9 L275.8,828.4 L275.3,830.0 L274.9,831.8 L274.5,833.6 L274.2,835.5 L273.9,837.4 L273.7,839.4 L273.5,841.5 L273.4,843.6 L273.4,845.7 L273.4,847.8 L273.5,849.8 L273.7,851.9 L273.9,853.9 L274.2,855.9 L274.5,857.8 L275.0,859.7 L275.5,861.4 L276.0,863.1 L276.7,864.6 L277.3,866.1 L278.1,867.4 L278.9,868.5 L279.7,869.6 L280.6,870.5 L281.5,871.2 L282.5,871.8 L283.5,872.2 L284.6,872.5" stroke="#8a845f" stroke-width="4.9"/><path d="M282.0,819.5 L281.5,819.6 L280.9,819.8 L280.3,820.1 L279.7,820.7 L279.1,821.3 L278.5,822.2 L277.9,823.1 L277.4,824.3 L276.8,825.5 L276.3,826.9 L275.8,828.4 L275.3,830.0 L274.9,831.8 L274.5,833.6 L274.2,835.5 L273.9,837.4 L273.7,839.4 L273.5,841.5 L273.4,843.6 L273.4,845.7 L273.4,847.8 L273.5,849.8 L273.7,851.9 L273.9,853.9 L274.2,855.9 L274.5,857.8 L275.0,859.7 L275.5,861.4 L276.0,863.1 L276.7,864.6 L277.3,866.1 L278.1,867.4 L278.9,868.5 L279.7,869.6 L280.6,870.5 L281.5,871.2 L282.5,871.8 L283.5,872.2 L284.6,872.5" stroke="#aca67f" stroke-width="1.3" transform="translate(-1.0,-0.6)" opacity="0.85"/><path d="M301.2,824.3 L300.7,824.4 L300.1,824.6 L299.5,824.9 L298.9,825.5 L298.3,826.1 L297.7,827.0 L297.1,827.9 L296.6,829.1 L296.0,830.3 L295.5,831.7 L295.0,833.2 L294.5,834.8 L294.1,836.6 L293.7,838.4 L293.4,840.3 L293.1,842.2 L292.9,844.2 L292.7,846.3 L292.6,848.4 L292.6,850.5 L292.6,852.6 L292.7,854.6 L292.9,856.7 L293.1,858.7 L293.4,860.7 L293.7,862.6 L294.2,864.5 L294.7,866.2 L295.2,867.9 L295.9,869.4 L296.5,870.9 L297.3,872.2 L298.1,873.3 L298.9,874.4 L299.8,875.3 L300.7,876.0 L301.7,876.6 L302.7,877.0 L303.8,877.3" stroke="#5c573a" stroke-width="7.5"/><path d="M301.2,824.3 L300.7,824.4 L300.1,824.6 L299.5,824.9 L298.9,825.5 L298.3,826.1 L297.7,827.0 L297.1,827.9 L296.6,829.1 L296.0,830.3 L295.5,831.7 L295.0,833.2 L294.5,834.8 L294.1,836.6 L293.7,838.4 L293.4,840.3 L293.1,842.2 L292.9,844.2 L292.7,846.3 L292.6,848.4 L292.6,850.5 L292.6,852.6 L292.7,854.6 L292.9,856.7 L293.1,858.7 L293.4,860.7 L293.7,862.6 L294.2,864.5 L294.7,866.2 L295.2,867.9 L295.9,869.4 L296.5,870.9 L297.3,872.2 L298.1,873.3 L298.9,874.4 L299.8,875.3 L300.7,876.0 L301.7,876.6 L302.7,877.0 L303.8,877.3" stroke="#8a845f" stroke-width="4.9"/><path d="M301.2,824.3 L300.7,824.4 L300.1,824.6 L299.5,824.9 L298.9,825.5 L298.3,826.1 L297.7,827.0 L297.1,827.9 L296.6,829.1 L296.0,830.3 L295.5,831.7 L295.0,833.2 L294.5,834.8 L294.1,836.6 L293.7,838.4 L293.4,840.3 L293.1,842.2 L292.9,844.2 L292.7,846.3 L292.6,848.4 L292.6,850.5 L292.6,852.6 L292.7,854.6 L292.9,856.7 L293.1,858.7 L293.4,860.7 L293.7,862.6 L294.2,864.5 L294.7,866.2 L295.2,867.9 L295.9,869.4 L296.5,870.9 L297.3,872.2 L298.1,873.3 L298.9,874.4 L299.8,875.3 L300.7,876.0 L301.7,876.6 L302.7,877.0 L303.8,877.3" stroke="#aca67f" stroke-width="1.3" transform="translate(-1.0,-0.6)" opacity="0.85"/><path d="M320.4,829.1 L319.9,829.2 L319.3,829.4 L318.7,829.7 L318.1,830.3 L317.5,830.9 L316.9,831.8 L316.3,832.7 L315.8,833.9 L315.2,835.1 L314.7,836.5 L314.2,838.0 L313.7,839.6 L313.3,841.4 L312.9,843.2 L312.6,845.1 L312.3,847.0 L312.1,849.0 L311.9,851.1 L311.8,853.2 L311.8,855.3 L311.8,857.4 L311.9,859.4 L312.1,861.5 L312.3,863.5 L312.6,865.5 L312.9,867.4 L313.4,869.3 L313.9,871.0 L314.4,872.7 L315.1,874.2 L315.7,875.7 L316.5,877.0 L317.3,878.1 L318.1,879.2 L319.0,880.1 L319.9,880.8 L320.9,881.4 L321.9,881.8 L323.0,882.1" stroke="#5c573a" stroke-width="7.5"/><path d="M320.4,829.1 L319.9,829.2 L319.3,829.4 L318.7,829.7 L318.1,830.3 L317.5,830.9 L316.9,831.8 L316.3,832.7 L315.8,833.9 L315.2,835.1 L314.7,836.5 L314.2,838.0 L313.7,839.6 L313.3,841.4 L312.9,843.2 L312.6,845.1 L312.3,847.0 L312.1,849.0 L311.9,851.1 L311.8,853.2 L311.8,855.3 L311.8,857.4 L311.9,859.4 L312.1,861.5 L312.3,863.5 L312.6,865.5 L312.9,867.4 L313.4,869.3 L313.9,871.0 L314.4,872.7 L315.1,874.2 L315.7,875.7 L316.5,877.0 L317.3,878.1 L318.1,879.2 L319.0,880.1 L319.9,880.8 L320.9,881.4 L321.9,881.8 L323.0,882.1" stroke="#8a845f" stroke-width="4.9"/><path d="M320.4,829.1 L319.9,829.2 L319.3,829.4 L318.7,829.7 L318.1,830.3 L317.5,830.9 L316.9,831.8 L316.3,832.7 L315.8,833.9 L315.2,835.1 L314.7,836.5 L314.2,838.0 L313.7,839.6 L313.3,841.4 L312.9,843.2 L312.6,845.1 L312.3,847.0 L312.1,849.0 L311.9,851.1 L311.8,853.2 L311.8,855.3 L311.8,857.4 L311.9,859.4 L312.1,861.5 L312.3,863.5 L312.6,865.5 L312.9,867.4 L313.4,869.3 L313.9,871.0 L314.4,872.7 L315.1,874.2 L315.7,875.7 L316.5,877.0 L317.3,878.1 L318.1,879.2 L319.0,880.1 L319.9,880.8 L320.9,881.4 L321.9,881.8 L323.0,882.1" stroke="#aca67f" stroke-width="1.3" transform="translate(-1.0,-0.6)" opacity="0.85"/><path d="M339.6,833.9 L339.1,834.0 L338.5,834.2 L337.9,834.5 L337.3,835.1 L336.7,835.7 L336.1,836.6 L335.5,837.5 L335.0,838.7 L334.4,839.9 L333.9,841.3 L333.4,842.8 L332.9,844.4 L332.5,846.2 L332.1,848.0 L331.8,849.9 L331.5,851.8 L331.3,853.8 L331.1,855.9 L331.0,858.0 L331.0,860.1 L331.0,862.2 L331.1,864.2 L331.3,866.3 L331.5,868.3 L331.8,870.3 L332.1,872.2 L332.6,874.1 L333.1,875.8 L333.6,877.5 L334.3,879.0 L334.9,880.5 L335.7,881.8 L336.5,882.9 L337.3,884.0 L338.2,884.9 L339.1,885.6 L340.1,886.2 L341.1,886.6 L342.2,886.9" stroke="#5c573a" stroke-width="7.5"/><path d="M339.6,833.9 L339.1,834.0 L338.5,834.2 L337.9,834.5 L337.3,835.1 L336.7,835.7 L336.1,836.6 L335.5,837.5 L335.0,838.7 L334.4,839.9 L333.9,841.3 L333.4,842.8 L332.9,844.4 L332.5,846.2 L332.1,848.0 L331.8,849.9 L331.5,851.8 L331.3,853.8 L331.1,855.9 L331.0,858.0 L331.0,860.1 L331.0,862.2 L331.1,864.2 L331.3,866.3 L331.5,868.3 L331.8,870.3 L332.1,872.2 L332.6,874.1 L333.1,875.8 L333.6,877.5 L334.3,879.0 L334.9,880.5 L335.7,881.8 L336.5,882.9 L337.3,884.0 L338.2,884.9 L339.1,885.6 L340.1,886.2 L341.1,886.6 L342.2,886.9" stroke="#8a845f" stroke-width="4.9"/><path d="M339.6,833.9 L339.1,834.0 L338.5,834.2 L337.9,834.5 L337.3,835.1 L336.7,835.7 L336.1,836.6 L335.5,837.5 L335.0,838.7 L334.4,839.9 L333.9,841.3 L333.4,842.8 L332.9,844.4 L332.5,846.2 L332.1,848.0 L331.8,849.9 L331.5,851.8 L331.3,853.8 L331.1,855.9 L331.0,858.0 L331.0,860.1 L331.0,862.2 L331.1,864.2 L331.3,866.3 L331.5,868.3 L331.8,870.3 L332.1,872.2 L332.6,874.1 L333.1,875.8 L333.6,877.5 L334.3,879.0 L334.9,880.5 L335.7,881.8 L336.5,882.9 L337.3,884.0 L338.2,884.9 L339.1,885.6 L340.1,886.2 L341.1,886.6 L342.2,886.9" stroke="#aca67f" stroke-width="1.3" transform="translate(-1.0,-0.6)" opacity="0.85"/><path d="M358.8,838.7 L358.3,838.8 L357.7,839.0 L357.1,839.3 L356.5,839.9 L355.9,840.5 L355.3,841.4 L354.7,842.3 L354.2,843.5 L353.6,844.7 L353.1,846.1 L352.6,847.6 L352.1,849.2 L351.7,851.0 L351.3,852.8 L351.0,854.7 L350.7,856.6 L350.5,858.6 L350.3,860.7 L350.2,862.8 L350.2,864.9 L350.2,867.0 L350.3,869.0 L350.5,871.1 L350.7,873.1 L351.0,875.1 L351.3,877.0 L351.8,878.9 L352.3,880.6 L352.8,882.3 L353.5,883.8 L354.1,885.3 L354.9,886.6 L355.7,887.7 L356.5,888.8 L357.4,889.7 L358.3,890.4 L359.3,891.0 L360.3,891.4 L361.4,891.7" stroke="#5c573a" stroke-width="7.5"/><path d="M358.8,838.7 L358.3,838.8 L357.7,839.0 L357.1,839.3 L356.5,839.9 L355.9,840.5 L355.3,841.4 L354.7,842.3 L354.2,843.5 L353.6,844.7 L353.1,846.1 L352.6,847.6 L352.1,849.2 L351.7,851.0 L351.3,852.8 L351.0,854.7 L350.7,856.6 L350.5,858.6 L350.3,860.7 L350.2,862.8 L350.2,864.9 L350.2,867.0 L350.3,869.0 L350.5,871.1 L350.7,873.1 L351.0,875.1 L351.3,877.0 L351.8,878.9 L352.3,880.6 L352.8,882.3 L353.5,883.8 L354.1,885.3 L354.9,886.6 L355.7,887.7 L356.5,888.8 L357.4,889.7 L358.3,890.4 L359.3,891.0 L360.3,891.4 L361.4,891.7" stroke="#8a845f" stroke-width="4.9"/><path d="M358.8,838.7 L358.3,838.8 L357.7,839.0 L357.1,839.3 L356.5,839.9 L355.9,840.5 L355.3,841.4 L354.7,842.3 L354.2,843.5 L353.6,844.7 L353.1,846.1 L352.6,847.6 L352.1,849.2 L351.7,851.0 L351.3,852.8 L351.0,854.7 L350.7,856.6 L350.5,858.6 L350.3,860.7 L350.2,862.8 L350.2,864.9 L350.2,867.0 L350.3,869.0 L350.5,871.1 L350.7,873.1 L351.0,875.1 L351.3,877.0 L351.8,878.9 L352.3,880.6 L352.8,882.3 L353.5,883.8 L354.1,885.3 L354.9,886.6 L355.7,887.7 L356.5,888.8 L357.4,889.7 L358.3,890.4 L359.3,891.0 L360.3,891.4 L361.4,891.7" stroke="#aca67f" stroke-width="1.3" transform="translate(-1.0,-0.6)" opacity="0.85"/></g>
<g clip-path="url(#clipC2out)" fill="none" stroke-linecap="round" stroke-linejoin="round"><path d="M262.8,814.7 L262.3,814.8 L261.7,815.0 L261.1,815.3 L260.5,815.9 L259.9,816.5 L259.3,817.4 L258.7,818.3 L258.2,819.5 L257.6,820.7 L257.1,822.1 L256.6,823.6 L256.1,825.2 L255.7,827.0 L255.3,828.8 L255.0,830.7 L254.7,832.6 L254.5,834.6 L254.3,836.7 L254.2,838.8 L254.2,840.9 L254.2,843.0 L254.3,845.0 L254.5,847.1 L254.7,849.1 L255.0,851.1 L255.3,853.0 L255.8,854.9 L256.3,856.6 L256.8,858.3 L257.5,859.8 L258.1,861.3 L258.9,862.6 L259.7,863.7 L260.5,864.8 L261.4,865.7 L262.3,866.4 L263.3,867.0 L264.3,867.4 L265.4,867.7" stroke="#a88b1f" stroke-width="7.5"/><path d="M262.8,814.7 L262.3,814.8 L261.7,815.0 L261.1,815.3 L260.5,815.9 L259.9,816.5 L259.3,817.4 L258.7,818.3 L258.2,819.5 L257.6,820.7 L257.1,822.1 L256.6,823.6 L256.1,825.2 L255.7,827.0 L255.3,828.8 L255.0,830.7 L254.7,832.6 L254.5,834.6 L254.3,836.7 L254.2,838.8 L254.2,840.9 L254.2,843.0 L254.3,845.0 L254.5,847.1 L254.7,849.1 L255.0,851.1 L255.3,853.0 L255.8,854.9 L256.3,856.6 L256.8,858.3 L257.5,859.8 L258.1,861.3 L258.9,862.6 L259.7,863.7 L260.5,864.8 L261.4,865.7 L262.3,866.4 L263.3,867.0 L264.3,867.4 L265.4,867.7" stroke="#f2d85f" stroke-width="4.9"/><path d="M262.8,814.7 L262.3,814.8 L261.7,815.0 L261.1,815.3 L260.5,815.9 L259.9,816.5 L259.3,817.4 L258.7,818.3 L258.2,819.5 L257.6,820.7 L257.1,822.1 L256.6,823.6 L256.1,825.2 L255.7,827.0 L255.3,828.8 L255.0,830.7 L254.7,832.6 L254.5,834.6 L254.3,836.7 L254.2,838.8 L254.2,840.9 L254.2,843.0 L254.3,845.0 L254.5,847.1 L254.7,849.1 L255.0,851.1 L255.3,853.0 L255.8,854.9 L256.3,856.6 L256.8,858.3 L257.5,859.8 L258.1,861.3 L258.9,862.6 L259.7,863.7 L260.5,864.8 L261.4,865.7 L262.3,866.4 L263.3,867.0 L264.3,867.4 L265.4,867.7" stroke="#fff6c0" stroke-width="1.3" transform="translate(-1.0,-0.6)" opacity="0.85"/><path d="M282.0,819.5 L281.5,819.6 L280.9,819.8 L280.3,820.1 L279.7,820.7 L279.1,821.3 L278.5,822.2 L277.9,823.1 L277.4,824.3 L276.8,825.5 L276.3,826.9 L275.8,828.4 L275.3,830.0 L274.9,831.8 L274.5,833.6 L274.2,835.5 L273.9,837.4 L273.7,839.4 L273.5,841.5 L273.4,843.6 L273.4,845.7 L273.4,847.8 L273.5,849.8 L273.7,851.9 L273.9,853.9 L274.2,855.9 L274.5,857.8 L275.0,859.7 L275.5,861.4 L276.0,863.1 L276.7,864.6 L277.3,866.1 L278.1,867.4 L278.9,868.5 L279.7,869.6 L280.6,870.5 L281.5,871.2 L282.5,871.8 L283.5,872.2 L284.6,872.5" stroke="#a88b1f" stroke-width="7.5"/><path d="M282.0,819.5 L281.5,819.6 L280.9,819.8 L280.3,820.1 L279.7,820.7 L279.1,821.3 L278.5,822.2 L277.9,823.1 L277.4,824.3 L276.8,825.5 L276.3,826.9 L275.8,828.4 L275.3,830.0 L274.9,831.8 L274.5,833.6 L274.2,835.5 L273.9,837.4 L273.7,839.4 L273.5,841.5 L273.4,843.6 L273.4,845.7 L273.4,847.8 L273.5,849.8 L273.7,851.9 L273.9,853.9 L274.2,855.9 L274.5,857.8 L275.0,859.7 L275.5,861.4 L276.0,863.1 L276.7,864.6 L277.3,866.1 L278.1,867.4 L278.9,868.5 L279.7,869.6 L280.6,870.5 L281.5,871.2 L282.5,871.8 L283.5,872.2 L284.6,872.5" stroke="#f2d85f" stroke-width="4.9"/><path d="M282.0,819.5 L281.5,819.6 L280.9,819.8 L280.3,820.1 L279.7,820.7 L279.1,821.3 L278.5,822.2 L277.9,823.1 L277.4,824.3 L276.8,825.5 L276.3,826.9 L275.8,828.4 L275.3,830.0 L274.9,831.8 L274.5,833.6 L274.2,835.5 L273.9,837.4 L273.7,839.4 L273.5,841.5 L273.4,843.6 L273.4,845.7 L273.4,847.8 L273.5,849.8 L273.7,851.9 L273.9,853.9 L274.2,855.9 L274.5,857.8 L275.0,859.7 L275.5,861.4 L276.0,863.1 L276.7,864.6 L277.3,866.1 L278.1,867.4 L278.9,868.5 L279.7,869.6 L280.6,870.5 L281.5,871.2 L282.5,871.8 L283.5,872.2 L284.6,872.5" stroke="#fff6c0" stroke-width="1.3" transform="translate(-1.0,-0.6)" opacity="0.85"/><path d="M301.2,824.3 L300.7,824.4 L300.1,824.6 L299.5,824.9 L298.9,825.5 L298.3,826.1 L297.7,827.0 L297.1,827.9 L296.6,829.1 L296.0,830.3 L295.5,831.7 L295.0,833.2 L294.5,834.8 L294.1,836.6 L293.7,838.4 L293.4,840.3 L293.1,842.2 L292.9,844.2 L292.7,846.3 L292.6,848.4 L292.6,850.5 L292.6,852.6 L292.7,854.6 L292.9,856.7 L293.1,858.7 L293.4,860.7 L293.7,862.6 L294.2,864.5 L294.7,866.2 L295.2,867.9 L295.9,869.4 L296.5,870.9 L297.3,872.2 L298.1,873.3 L298.9,874.4 L299.8,875.3 L300.7,876.0 L301.7,876.6 L302.7,877.0 L303.8,877.3" stroke="#a88b1f" stroke-width="7.5"/><path d="M301.2,824.3 L300.7,824.4 L300.1,824.6 L299.5,824.9 L298.9,825.5 L298.3,826.1 L297.7,827.0 L297.1,827.9 L296.6,829.1 L296.0,830.3 L295.5,831.7 L295.0,833.2 L294.5,834.8 L294.1,836.6 L293.7,838.4 L293.4,840.3 L293.1,842.2 L292.9,844.2 L292.7,846.3 L292.6,848.4 L292.6,850.5 L292.6,852.6 L292.7,854.6 L292.9,856.7 L293.1,858.7 L293.4,860.7 L293.7,862.6 L294.2,864.5 L294.7,866.2 L295.2,867.9 L295.9,869.4 L296.5,870.9 L297.3,872.2 L298.1,873.3 L298.9,874.4 L299.8,875.3 L300.7,876.0 L301.7,876.6 L302.7,877.0 L303.8,877.3" stroke="#f2d85f" stroke-width="4.9"/><path d="M301.2,824.3 L300.7,824.4 L300.1,824.6 L299.5,824.9 L298.9,825.5 L298.3,826.1 L297.7,827.0 L297.1,827.9 L296.6,829.1 L296.0,830.3 L295.5,831.7 L295.0,833.2 L294.5,834.8 L294.1,836.6 L293.7,838.4 L293.4,840.3 L293.1,842.2 L292.9,844.2 L292.7,846.3 L292.6,848.4 L292.6,850.5 L292.6,852.6 L292.7,854.6 L292.9,856.7 L293.1,858.7 L293.4,860.7 L293.7,862.6 L294.2,864.5 L294.7,866.2 L295.2,867.9 L295.9,869.4 L296.5,870.9 L297.3,872.2 L298.1,873.3 L298.9,874.4 L299.8,875.3 L300.7,876.0 L301.7,876.6 L302.7,877.0 L303.8,877.3" stroke="#fff6c0" stroke-width="1.3" transform="translate(-1.0,-0.6)" opacity="0.85"/><path d="M320.4,829.1 L319.9,829.2 L319.3,829.4 L318.7,829.7 L318.1,830.3 L317.5,830.9 L316.9,831.8 L316.3,832.7 L315.8,833.9 L315.2,835.1 L314.7,836.5 L314.2,838.0 L313.7,839.6 L313.3,841.4 L312.9,843.2 L312.6,845.1 L312.3,847.0 L312.1,849.0 L311.9,851.1 L311.8,853.2 L311.8,855.3 L311.8,857.4 L311.9,859.4 L312.1,861.5 L312.3,863.5 L312.6,865.5 L312.9,867.4 L313.4,869.3 L313.9,871.0 L314.4,872.7 L315.1,874.2 L315.7,875.7 L316.5,877.0 L317.3,878.1 L318.1,879.2 L319.0,880.1 L319.9,880.8 L320.9,881.4 L321.9,881.8 L323.0,882.1" stroke="#a88b1f" stroke-width="7.5"/><path d="M320.4,829.1 L319.9,829.2 L319.3,829.4 L318.7,829.7 L318.1,830.3 L317.5,830.9 L316.9,831.8 L316.3,832.7 L315.8,833.9 L315.2,835.1 L314.7,836.5 L314.2,838.0 L313.7,839.6 L313.3,841.4 L312.9,843.2 L312.6,845.1 L312.3,847.0 L312.1,849.0 L311.9,851.1 L311.8,853.2 L311.8,855.3 L311.8,857.4 L311.9,859.4 L312.1,861.5 L312.3,863.5 L312.6,865.5 L312.9,867.4 L313.4,869.3 L313.9,871.0 L314.4,872.7 L315.1,874.2 L315.7,875.7 L316.5,877.0 L317.3,878.1 L318.1,879.2 L319.0,880.1 L319.9,880.8 L320.9,881.4 L321.9,881.8 L323.0,882.1" stroke="#f2d85f" stroke-width="4.9"/><path d="M320.4,829.1 L319.9,829.2 L319.3,829.4 L318.7,829.7 L318.1,830.3 L317.5,830.9 L316.9,831.8 L316.3,832.7 L315.8,833.9 L315.2,835.1 L314.7,836.5 L314.2,838.0 L313.7,839.6 L313.3,841.4 L312.9,843.2 L312.6,845.1 L312.3,847.0 L312.1,849.0 L311.9,851.1 L311.8,853.2 L311.8,855.3 L311.8,857.4 L311.9,859.4 L312.1,861.5 L312.3,863.5 L312.6,865.5 L312.9,867.4 L313.4,869.3 L313.9,871.0 L314.4,872.7 L315.1,874.2 L315.7,875.7 L316.5,877.0 L317.3,878.1 L318.1,879.2 L319.0,880.1 L319.9,880.8 L320.9,881.4 L321.9,881.8 L323.0,882.1" stroke="#fff6c0" stroke-width="1.3" transform="translate(-1.0,-0.6)" opacity="0.85"/><path d="M339.6,833.9 L339.1,834.0 L338.5,834.2 L337.9,834.5 L337.3,835.1 L336.7,835.7 L336.1,836.6 L335.5,837.5 L335.0,838.7 L334.4,839.9 L333.9,841.3 L333.4,842.8 L332.9,844.4 L332.5,846.2 L332.1,848.0 L331.8,849.9 L331.5,851.8 L331.3,853.8 L331.1,855.9 L331.0,858.0 L331.0,860.1 L331.0,862.2 L331.1,864.2 L331.3,866.3 L331.5,868.3 L331.8,870.3 L332.1,872.2 L332.6,874.1 L333.1,875.8 L333.6,877.5 L334.3,879.0 L334.9,880.5 L335.7,881.8 L336.5,882.9 L337.3,884.0 L338.2,884.9 L339.1,885.6 L340.1,886.2 L341.1,886.6 L342.2,886.9" stroke="#a88b1f" stroke-width="7.5"/><path d="M339.6,833.9 L339.1,834.0 L338.5,834.2 L337.9,834.5 L337.3,835.1 L336.7,835.7 L336.1,836.6 L335.5,837.5 L335.0,838.7 L334.4,839.9 L333.9,841.3 L333.4,842.8 L332.9,844.4 L332.5,846.2 L332.1,848.0 L331.8,849.9 L331.5,851.8 L331.3,853.8 L331.1,855.9 L331.0,858.0 L331.0,860.1 L331.0,862.2 L331.1,864.2 L331.3,866.3 L331.5,868.3 L331.8,870.3 L332.1,872.2 L332.6,874.1 L333.1,875.8 L333.6,877.5 L334.3,879.0 L334.9,880.5 L335.7,881.8 L336.5,882.9 L337.3,884.0 L338.2,884.9 L339.1,885.6 L340.1,886.2 L341.1,886.6 L342.2,886.9" stroke="#f2d85f" stroke-width="4.9"/><path d="M339.6,833.9 L339.1,834.0 L338.5,834.2 L337.9,834.5 L337.3,835.1 L336.7,835.7 L336.1,836.6 L335.5,837.5 L335.0,838.7 L334.4,839.9 L333.9,841.3 L333.4,842.8 L332.9,844.4 L332.5,846.2 L332.1,848.0 L331.8,849.9 L331.5,851.8 L331.3,853.8 L331.1,855.9 L331.0,858.0 L331.0,860.1 L331.0,862.2 L331.1,864.2 L331.3,866.3 L331.5,868.3 L331.8,870.3 L332.1,872.2 L332.6,874.1 L333.1,875.8 L333.6,877.5 L334.3,879.0 L334.9,880.5 L335.7,881.8 L336.5,882.9 L337.3,884.0 L338.2,884.9 L339.1,885.6 L340.1,886.2 L341.1,886.6 L342.2,886.9" stroke="#fff6c0" stroke-width="1.3" transform="translate(-1.0,-0.6)" opacity="0.85"/><path d="M358.8,838.7 L358.3,838.8 L357.7,839.0 L357.1,839.3 L356.5,839.9 L355.9,840.5 L355.3,841.4 L354.7,842.3 L354.2,843.5 L353.6,844.7 L353.1,846.1 L352.6,847.6 L352.1,849.2 L351.7,851.0 L351.3,852.8 L351.0,854.7 L350.7,856.6 L350.5,858.6 L350.3,860.7 L350.2,862.8 L350.2,864.9 L350.2,867.0 L350.3,869.0 L350.5,871.1 L350.7,873.1 L351.0,875.1 L351.3,877.0 L351.8,878.9 L352.3,880.6 L352.8,882.3 L353.5,883.8 L354.1,885.3 L354.9,886.6 L355.7,887.7 L356.5,888.8 L357.4,889.7 L358.3,890.4 L359.3,891.0 L360.3,891.4 L361.4,891.7" stroke="#a88b1f" stroke-width="7.5"/><path d="M358.8,838.7 L358.3,838.8 L357.7,839.0 L357.1,839.3 L356.5,839.9 L355.9,840.5 L355.3,841.4 L354.7,842.3 L354.2,843.5 L353.6,844.7 L353.1,846.1 L352.6,847.6 L352.1,849.2 L351.7,851.0 L351.3,852.8 L351.0,854.7 L350.7,856.6 L350.5,858.6 L350.3,860.7 L350.2,862.8 L350.2,864.9 L350.2,867.0 L350.3,869.0 L350.5,871.1 L350.7,873.1 L351.0,875.1 L351.3,877.0 L351.8,878.9 L352.3,880.6 L352.8,882.3 L353.5,883.8 L354.1,885.3 L354.9,886.6 L355.7,887.7 L356.5,888.8 L357.4,889.7 L358.3,890.4 L359.3,891.0 L360.3,891.4 L361.4,891.7" stroke="#f2d85f" stroke-width="4.9"/><path d="M358.8,838.7 L358.3,838.8 L357.7,839.0 L357.1,839.3 L356.5,839.9 L355.9,840.5 L355.3,841.4 L354.7,842.3 L354.2,843.5 L353.6,844.7 L353.1,846.1 L352.6,847.6 L352.1,849.2 L351.7,851.0 L351.3,852.8 L351.0,854.7 L350.7,856.6 L350.5,858.6 L350.3,860.7 L350.2,862.8 L350.2,864.9 L350.2,867.0 L350.3,869.0 L350.5,871.1 L350.7,873.1 L351.0,875.1 L351.3,877.0 L351.8,878.9 L352.3,880.6 L352.8,882.3 L353.5,883.8 L354.1,885.3 L354.9,886.6 L355.7,887.7 L356.5,888.8 L357.4,889.7 L358.3,890.4 L359.3,891.0 L360.3,891.4 L361.4,891.7" stroke="#fff6c0" stroke-width="1.3" transform="translate(-1.0,-0.6)" opacity="0.85"/></g>
<g transform="translate(402,869) rotate(12)"><ellipse cx="0" cy="0" rx="13" ry="29" fill="none" stroke="#f7d86e" stroke-width="2.6"/></g>
<polygon points="408.0,867.0 420.0,867.0 414.5,855.0" fill="#f7d86e" stroke="none" stroke-width="0.0" stroke-linejoin="round" />
<g transform="translate(143.0,804.5) rotate(-36.0)"><path d="M-42.0,0.0 L-28.5,-15.5 L-28.5,-8.2 L28.5,-8.2 L28.5,-15.5 L42.0,0.0 L28.5,15.5 L28.5,8.2 L-28.5,8.2 L-28.5,15.5 Z" fill="none" stroke="#2f6a24" stroke-width="9.0" stroke-linejoin="round" opacity="0.45" filter="url(#blur2)"/><path d="M-42.0,0.0 L-28.5,-15.5 L-28.5,-8.2 L28.5,-8.2 L28.5,-15.5 L42.0,0.0 L28.5,15.5 L28.5,8.2 L-28.5,8.2 L-28.5,15.5 Z" fill="url(#gfill)" stroke="#2b5f20" stroke-width="4.0" stroke-linejoin="round"/><line x1="-31.9" y1="-0.5" x2="31.9" y2="-0.5" stroke="#ffffff" stroke-width="3.7" stroke-linecap="round" opacity="0.85"/></g>
<line x1="103.0" y1="796.4" x2="424.9" y2="877.2" stroke="#cc0a0a" stroke-width="4.5" /><polygon points="438.5,880.6 421.2,884.0 424.8,869.4" fill="#cc0a0a" stroke="none" stroke-width="0.0" stroke-linejoin="round" />
<text x="93.0" y="866.0" class="lb">x<tspan dy="4.5">_</tspan><tspan dy="-4.5">LP</tspan></text>
<text x="381.5" y="827" class="lb2">LCP</text>
<polygon points="660,545 712,556 712,592 660,578" fill="url(#beamG)" filter="url(#blur3)"/>
<polygon points="699.4,525.1 753.2,500.5 753.2,614.1 699.4,638.7" fill="url(#leftG)" stroke="none" stroke-width="0.0" stroke-linejoin="round" /><polygon points="699.4,525.1 753.2,500.5 753.2,531.4" fill="url(#topG)" stroke="none" stroke-width="0.0" stroke-linejoin="round" /><polygon points="753.2,500.5 901.9,518.0 901.9,631.6 753.2,614.1" fill="url(#backG)" stroke="none" stroke-width="0.0" stroke-linejoin="round" /><polygon points="699.4,638.7 753.2,614.1 901.9,631.6 848.1,656.2" fill="#cbcbcb" stroke="none" stroke-width="0.0" stroke-linejoin="round" /><polygon points="699.4,525.1 848.1,542.6 848.1,656.2 699.4,638.7" fill="rgba(235,235,235,0.0)" stroke="none" stroke-width="0.0" stroke-linejoin="round" /><line x1="699.4" y1="525.1" x2="753.2" y2="500.5" stroke="#767373" stroke-width="2.8" stroke-linecap="round"/><line x1="753.2" y1="500.5" x2="901.9" y2="518.0" stroke="#767373" stroke-width="2.8" stroke-linecap="round"/><line x1="901.9" y1="518.0" x2="901.9" y2="631.6" stroke="#767373" stroke-width="2.8" stroke-linecap="round"/><line x1="699.4" y1="525.1" x2="699.4" y2="638.7" stroke="#767373" stroke-width="2.8" stroke-linecap="round"/><line x1="699.4" y1="638.7" x2="848.1" y2="656.2" stroke="#767373" stroke-width="2.8" stroke-linecap="round"/><line x1="848.1" y1="656.2" x2="901.9" y2="631.6" stroke="#767373" stroke-width="2.8" stroke-linecap="round"/><line x1="753.2" y1="500.5" x2="753.2" y2="614.1" stroke="#767373" stroke-width="2.8" stroke-linecap="round"/><line x1="699.4" y1="638.7" x2="753.2" y2="614.1" stroke="#767373" stroke-width="2.8" stroke-linecap="round"/><line x1="848.1" y1="566.0" x2="848.1" y2="656.2" stroke="#767373" stroke-width="2.8" stroke-linecap="round"/><line x1="699.4" y1="525.1" x2="752.0" y2="531.3" stroke="#767373" stroke-width="2.8" stroke-linecap="round"/>
<polygon points="700,552 760,562 760,596 700,584" fill="#b3dba3" opacity="0.45" filter="url(#blur2)"/>
<polygon points="762,566 790,561 848,563 848,624 795,617 765,607" fill="#e8c7a6" opacity="0.9"/>
<polygon points="850.5,566 902,566 902,627 850.5,629" fill="url(#oG)"/>
<line x1="847.8" y1="566.0" x2="847.8" y2="656.0" stroke="#8a8a8a" stroke-width="4.0" />
<g transform="translate(750.5,569.5) rotate(-42.0)"><path d="M-27.0,0.0 L-14.0,-12.5 L-14.0,-5.6 L14.0,-5.6 L14.0,-12.5 L27.0,0.0 L14.0,12.5 L14.0,5.6 L-14.0,5.6 L-14.0,12.5 Z" fill="none" stroke="#2f6a24" stroke-width="8.4" stroke-linejoin="round" opacity="0.45" filter="url(#blur2)"/><path d="M-27.0,0.0 L-14.0,-12.5 L-14.0,-5.6 L14.0,-5.6 L14.0,-12.5 L27.0,0.0 L14.0,12.5 L14.0,5.6 L-14.0,5.6 L-14.0,12.5 Z" fill="url(#gfill)" stroke="#2b5f20" stroke-width="3.4" stroke-linejoin="round"/><line x1="-17.2" y1="-0.5" x2="17.2" y2="-0.5" stroke="#ffffff" stroke-width="2.5" stroke-linecap="round" opacity="0.85"/></g>
<g transform="translate(786.0,586.0) rotate(-64.0)"><path d="M-27.0,0.0 L-15.0,-11.0 L-15.0,-5.0 L15.0,-5.0 L15.0,-11.0 L27.0,0.0 L15.0,11.0 L15.0,5.0 L-15.0,5.0 L-15.0,11.0 Z" fill="none" stroke="#9a7e14" stroke-width="8.4" stroke-linejoin="round" opacity="0.45" filter="url(#blur2)"/><path d="M-27.0,0.0 L-15.0,-11.0 L-15.0,-5.0 L15.0,-5.0 L15.0,-11.0 L27.0,0.0 L15.0,11.0 L15.0,5.0 L-15.0,5.0 L-15.0,11.0 Z" fill="url(#yfill)" stroke="#9a7e14" stroke-width="3.4" stroke-linejoin="round"/><line x1="-18.0" y1="-0.5" x2="18.0" y2="-0.5" stroke="#ffffff" stroke-width="2.2" stroke-linecap="round" opacity="0.85"/></g>
<g transform="translate(828.2,594.8) rotate(90.0)"><path d="M-26.5,0.0 L-11.5,-13.5 L-11.5,-5.4 L11.5,-5.4 L11.5,-13.5 L26.5,0.0 L11.5,13.5 L11.5,5.4 L-11.5,5.4 L-11.5,13.5 Z" fill="none" stroke="#a44c16" stroke-width="8.6" stroke-linejoin="round" opacity="0.45" filter="url(#blur2)"/><path d="M-26.5,0.0 L-11.5,-13.5 L-11.5,-5.4 L11.5,-5.4 L11.5,-13.5 L26.5,0.0 L11.5,13.5 L11.5,5.4 L-11.5,5.4 L-11.5,13.5 Z" fill="url(#ofill)" stroke="#a44c16" stroke-width="3.6" stroke-linejoin="round"/><line x1="-15.2" y1="-0.5" x2="15.2" y2="-0.5" stroke="#ffffff" stroke-width="2.4" stroke-linecap="round" opacity="0.85"/></g>
<g transform="translate(895.7,604.8) rotate(90.0)"><path d="M-48.0,0.0 L-33.0,-13.5 L-33.0,-5.8 L33.0,-5.8 L33.0,-13.5 L48.0,0.0 L33.0,13.5 L33.0,5.8 L-33.0,5.8 L-33.0,13.5 Z" fill="none" stroke="#a44c16" stroke-width="8.8" stroke-linejoin="round" opacity="0.45" filter="url(#blur2)"/><path d="M-48.0,0.0 L-33.0,-13.5 L-33.0,-5.8 L33.0,-5.8 L33.0,-13.5 L48.0,0.0 L33.0,13.5 L33.0,5.8 L-33.0,5.8 L-33.0,13.5 Z" fill="url(#ofill)" stroke="#a44c16" stroke-width="3.8" stroke-linejoin="round"/><line x1="-36.8" y1="-0.5" x2="36.8" y2="-0.5" stroke="#ffffff" stroke-width="2.6" stroke-linecap="round" opacity="0.85"/></g>
<g transform="translate(654.6,543.6) rotate(-39.0)"><path d="M-42.0,0.0 L-28.5,-15.5 L-28.5,-8.2 L28.5,-8.2 L28.5,-15.5 L42.0,0.0 L28.5,15.5 L28.5,8.2 L-28.5,8.2 L-28.5,15.5 Z" fill="none" stroke="#2f6a24" stroke-width="9.0" stroke-linejoin="round" opacity="0.45" filter="url(#blur2)"/><path d="M-42.0,0.0 L-28.5,-15.5 L-28.5,-8.2 L28.5,-8.2 L28.5,-15.5 L42.0,0.0 L28.5,15.5 L28.5,8.2 L-28.5,8.2 L-28.5,15.5 Z" fill="url(#gfill)" stroke="#2b5f20" stroke-width="4.0" stroke-linejoin="round"/><line x1="-31.9" y1="-0.5" x2="31.9" y2="-0.5" stroke="#ffffff" stroke-width="3.7" stroke-linecap="round" opacity="0.85"/></g>
<line x1="615.0" y1="542.5" x2="949.5" y2="617.4" stroke="#cc0a0a" stroke-width="4.5" /><polygon points="963.2,620.5 945.9,624.3 949.2,609.7" fill="#cc0a0a" stroke="none" stroke-width="0.0" stroke-linejoin="round" />
<text x="604.5" y="604.0" class="lb">x<tspan dy="4.5">_</tspan><tspan dy="-4.5">LP</tspan></text>
<text x="909.0" y="548.0" class="lb">y<tspan dy="4.5">_</tspan><tspan dy="-4.5">LP</tspan></text>
<polygon points="640,790 700,800 700,836 640,824" fill="url(#beamG)" filter="url(#blur3)"/>
<polygon points="696.4,771.1 749.0,747.5 749.0,862.4 696.4,886.0" fill="url(#leftG)" stroke="none" stroke-width="0.0" stroke-linejoin="round" /><polygon points="696.4,771.1 749.0,747.5 749.0,777.1" fill="url(#topG)" stroke="none" stroke-width="0.0" stroke-linejoin="round" /><polygon points="749.0,747.5 899.3,764.6 899.3,879.5 749.0,862.4" fill="url(#backG)" stroke="none" stroke-width="0.0" stroke-linejoin="round" /><polygon points="696.4,886.0 749.0,862.4 899.3,879.5 846.7,903.1" fill="#cbcbcb" stroke="none" stroke-width="0.0" stroke-linejoin="round" /><polygon points="696.4,771.1 846.7,788.2 846.7,903.1 696.4,886.0" fill="rgba(235,235,235,0.0)" stroke="none" stroke-width="0.0" stroke-linejoin="round" /><line x1="696.4" y1="771.1" x2="749.0" y2="747.5" stroke="#767373" stroke-width="2.8" stroke-linecap="round"/><line x1="749.0" y1="747.5" x2="899.3" y2="764.6" stroke="#767373" stroke-width="2.8" stroke-linecap="round"/><line x1="899.3" y1="764.6" x2="899.3" y2="879.5" stroke="#767373" stroke-width="2.8" stroke-linecap="round"/><line x1="696.4" y1="771.1" x2="696.4" y2="886.0" stroke="#767373" stroke-width="2.8" stroke-linecap="round"/><line x1="696.4" y1="886.0" x2="846.7" y2="903.1" stroke="#767373" stroke-width="2.8" stroke-linecap="round"/><line x1="846.7" y1="903.1" x2="899.3" y2="879.5" stroke="#767373" stroke-width="2.8" stroke-linecap="round"/><line x1="749.0" y1="747.5" x2="749.0" y2="862.4" stroke="#767373" stroke-width="2.8" stroke-linecap="round"/><line x1="696.4" y1="886.0" x2="749.0" y2="862.4" stroke="#767373" stroke-width="2.8" stroke-linecap="round"/><line x1="846.7" y1="868.0" x2="846.7" y2="903.1" stroke="#767373" stroke-width="2.8" stroke-linecap="round"/><line x1="696.4" y1="771.1" x2="749.0" y2="777.1" stroke="#767373" stroke-width="2.8" stroke-linecap="round"/>
<polygon points="697,797 899,831 899,866 697,829" fill="url(#bandG)" opacity="0.75"/>
<polygon points="885,828 899,831 899,866 866,860" fill="#c2ebb2" opacity="0.9"/>
<polygon points="899,831 940,839 940,874 899,866" fill="#b5e6a2" opacity="0.85" filter="url(#blur2)"/>
<line x1="845.0" y1="868.0" x2="845.0" y2="902.0" stroke="#8a8a8a" stroke-width="3.0" />
<g transform="translate(764.4,828.3) rotate(-45.0)"><path d="M-22.0,0.0 L-8.0,-13.0 L-8.0,-6.0 L8.0,-6.0 L8.0,-13.0 L22.0,0.0 L8.0,13.0 L8.0,6.0 L-8.0,6.0 L-8.0,13.0 Z" fill="none" stroke="#2f6a24" stroke-width="8.4" stroke-linejoin="round" opacity="0.45" filter="url(#blur2)"/><path d="M-22.0,0.0 L-8.0,-13.0 L-8.0,-6.0 L8.0,-6.0 L8.0,-13.0 L22.0,0.0 L8.0,13.0 L8.0,6.0 L-8.0,6.0 L-8.0,13.0 Z" fill="url(#gfill)" stroke="#2b5f20" stroke-width="3.4" stroke-linejoin="round"/><line x1="-11.5" y1="-0.5" x2="11.5" y2="-0.5" stroke="#ffffff" stroke-width="2.7" stroke-linecap="round" opacity="0.85"/></g>
<g transform="translate(814.8,839.8) rotate(-45.0)"><path d="M-22.0,0.0 L-8.0,-13.0 L-8.0,-6.0 L8.0,-6.0 L8.0,-13.0 L22.0,0.0 L8.0,13.0 L8.0,6.0 L-8.0,6.0 L-8.0,13.0 Z" fill="none" stroke="#2f6a24" stroke-width="8.4" stroke-linejoin="round" opacity="0.45" filter="url(#blur2)"/><path d="M-22.0,0.0 L-8.0,-13.0 L-8.0,-6.0 L8.0,-6.0 L8.0,-13.0 L22.0,0.0 L8.0,13.0 L8.0,6.0 L-8.0,6.0 L-8.0,13.0 Z" fill="url(#gfill)" stroke="#2b5f20" stroke-width="3.4" stroke-linejoin="round"/><line x1="-11.5" y1="-0.5" x2="11.5" y2="-0.5" stroke="#ffffff" stroke-width="2.7" stroke-linecap="round" opacity="0.85"/></g>
<g transform="translate(924.0,864.5) rotate(-44.0)"><path d="M-40.0,0.0 L-26.5,-15.5 L-26.5,-8.2 L26.5,-8.2 L26.5,-15.5 L40.0,0.0 L26.5,15.5 L26.5,8.2 L-26.5,8.2 L-26.5,15.5 Z" fill="none" stroke="#2f6a24" stroke-width="9.0" stroke-linejoin="round" opacity="0.45" filter="url(#blur2)"/><path d="M-40.0,0.0 L-26.5,-15.5 L-26.5,-8.2 L26.5,-8.2 L26.5,-15.5 L40.0,0.0 L26.5,15.5 L26.5,8.2 L-26.5,8.2 L-26.5,15.5 Z" fill="url(#gfill)" stroke="#2b5f20" stroke-width="4.0" stroke-linejoin="round"/><line x1="-29.9" y1="-0.5" x2="29.9" y2="-0.5" stroke="#ffffff" stroke-width="3.7" stroke-linecap="round" opacity="0.85"/></g>
<g transform="translate(646.4,794.1) rotate(-37.5)"><path d="M-42.0,0.0 L-28.5,-15.5 L-28.5,-8.2 L28.5,-8.2 L28.5,-15.5 L42.0,0.0 L28.5,15.5 L28.5,8.2 L-28.5,8.2 L-28.5,15.5 Z" fill="none" stroke="#2f6a24" stroke-width="9.0" stroke-linejoin="round" opacity="0.45" filter="url(#blur2)"/><path d="M-42.0,0.0 L-28.5,-15.5 L-28.5,-8.2 L28.5,-8.2 L28.5,-15.5 L42.0,0.0 L28.5,15.5 L28.5,8.2 L-28.5,8.2 L-28.5,15.5 Z" fill="url(#gfill)" stroke="#2b5f20" stroke-width="4.0" stroke-linejoin="round"/><line x1="-31.9" y1="-0.5" x2="31.9" y2="-0.5" stroke="#ffffff" stroke-width="3.7" stroke-linecap="round" opacity="0.85"/></g>
<line x1="613.1" y1="791.3" x2="957.9" y2="870.0" stroke="#cc0a0a" stroke-width="4.5" /><polygon points="971.5,873.1 954.2,876.9 957.6,862.2" fill="#cc0a0a" stroke="none" stroke-width="0.0" stroke-linejoin="round" />
<text x="600.0" y="850.0" class="lb">x<tspan dy="4.5">_</tspan><tspan dy="-4.5">LP</tspan></text>
<text x="909.5" y="819.0" class="lb">x<tspan dy="4.5">_</tspan><tspan dy="-4.5">LP</tspan></text>
</svg></body></html>
